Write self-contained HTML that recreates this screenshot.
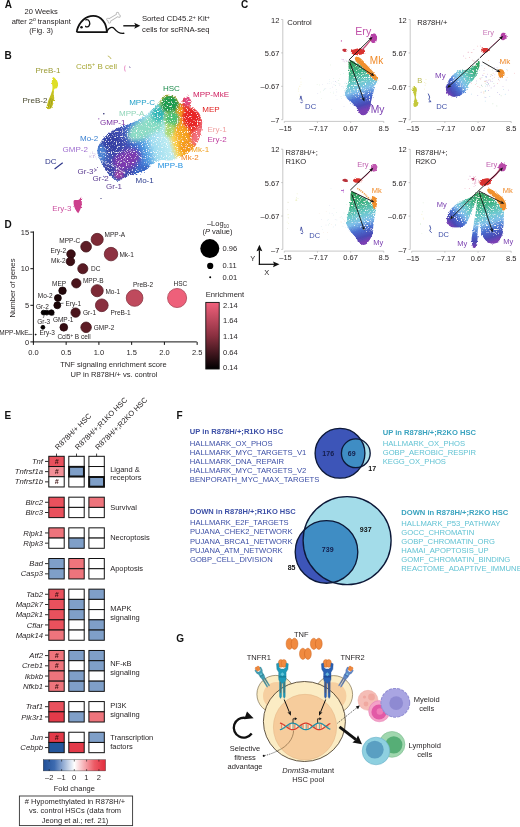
<!DOCTYPE html><html><head><meta charset="utf-8"><title>Figure</title><style>html,body{margin:0;padding:0;background:#fff}svg{display:block}text{font-family:"Liberation Sans",sans-serif}</style></head><body>
<svg width="520" height="827" viewBox="0 0 520 827">
<rect width="520" height="827" fill="#fff"/>
<defs>
<filter id="rough" x="-10%" y="-10%" width="120%" height="120%"><feTurbulence type="fractalNoise" baseFrequency="0.9" numOctaves="2" seed="3" result="n"/><feDisplacementMap in="SourceGraphic" in2="n" scale="3.2" xChannelSelector="R" yChannelSelector="G" result="d"/><feTurbulence type="fractalNoise" baseFrequency="0.8" numOctaves="1" seed="8" result="s"/><feColorMatrix in="s" type="matrix" values="0 0 0 0 1  0 0 0 0 1  0 0 0 0 1  6 0 0 0 -3.5" result="w"/><feComposite in="w" in2="d" operator="in" result="w2"/><feMerge><feMergeNode in="d"/><feMergeNode in="w2"/></feMerge></filter>
<filter id="bl3"><feGaussianBlur stdDeviation="3"/></filter>
<filter id="bl2"><feGaussianBlur stdDeviation="2"/></filter>
<filter id="bl15"><feGaussianBlur stdDeviation="1.5"/></filter>
<filter id="bl1"><feGaussianBlur stdDeviation="1"/></filter>
<filter id="bl5"><feGaussianBlur stdDeviation="5"/></filter>
<clipPath id="bclip"><path d="M97.6,150.0 C98.1,146.6 98.0,146.4 100.5,142.5 C103.0,138.6 103.1,138.2 107.5,134.5 C111.9,130.8 112.4,130.5 118.0,127.8 C123.6,125.1 124.0,126.4 130.0,123.8 C136.0,121.2 136.6,121.0 142.0,117.5 C147.4,114.0 147.4,113.8 151.5,110.0 C155.6,106.2 155.5,105.8 158.5,102.5 C161.5,99.2 161.0,98.7 163.5,96.8 C166.0,94.9 165.5,94.7 168.5,94.8 C171.5,94.9 172.8,95.4 175.4,97.2 C178.0,99.0 176.8,100.2 178.8,102.0 C180.8,103.8 180.6,103.0 183.5,104.4 C186.4,105.8 187.1,105.9 190.5,107.5 C193.9,109.1 194.3,108.2 197.0,110.8 C199.7,113.4 199.9,114.2 201.2,118.0 C202.5,121.8 202.2,121.9 202.0,125.8 C201.8,129.7 201.6,129.4 200.5,133.5 C199.4,137.6 199.7,137.9 197.5,142.0 C195.3,146.1 194.8,146.6 191.7,149.8 C188.6,153.0 188.6,152.5 185.0,154.6 C181.4,156.7 181.2,156.8 177.3,158.3 C173.4,159.8 174.1,160.1 169.6,160.6 C165.1,161.1 164.1,159.4 159.5,160.4 C154.9,161.4 154.5,162.2 151.2,164.5 C147.9,166.8 150.4,167.0 146.5,169.5 C142.6,172.0 140.4,173.0 135.8,174.5 C131.2,176.0 131.5,174.3 128.0,175.5 C124.5,176.7 124.9,178.1 122.0,179.3 C119.1,180.5 119.6,181.4 116.5,180.3 C113.4,179.2 112.7,178.1 109.6,175.0 C106.5,171.9 106.4,171.4 104.2,168.0 C102.0,164.6 102.4,164.5 101.0,161.5 C99.6,158.5 99.4,158.9 98.5,156.0 C97.6,153.1 97.1,153.4 97.6,150.0 Z"/><path d="M183,106 L182.5,100 L184,97.5 L186.5,98.5 L187.5,95.5 L189,96 L189.5,99 L192,100.5 L190.5,103.5 L191,107 Z"/></clipPath>
<linearGradient id="bgrad" gradientUnits="userSpaceOnUse" x1="95" y1="160" x2="203" y2="128"><stop offset="0" stop-color="#5a90d8"/><stop offset="0.08" stop-color="#4468c0"/><stop offset="0.18" stop-color="#3b47ab"/><stop offset="0.30" stop-color="#4150b4"/><stop offset="0.38" stop-color="#3f70d0"/><stop offset="0.46" stop-color="#58a4e4"/><stop offset="0.53" stop-color="#a0dcf0"/><stop offset="0.67" stop-color="#bcecf2"/><stop offset="0.72" stop-color="#f8d458"/><stop offset="0.77" stop-color="#f7b02a"/><stop offset="0.86" stop-color="#f49a1e"/><stop offset="0.9" stop-color="#ea3a2a"/><stop offset="0.96" stop-color="#ee5a60"/><stop offset="1" stop-color="#f0707c"/></linearGradient>
</defs>
<g filter="url(#rough)"><g clip-path="url(#bclip)">
<rect x="90" y="90" width="120" height="95" fill="url(#bgrad)"/>
<ellipse cx="126" cy="160" rx="15" ry="9.5" fill="#7d3bb0" filter="url(#bl2)" transform="rotate(-28 126 160)"/>
<ellipse cx="108" cy="169" rx="7" ry="7" fill="#3d44a8" filter="url(#bl2)" transform="rotate(0 108 169)"/>
<ellipse cx="119" cy="174.5" rx="5" ry="4.5" fill="#9a40a8" filter="url(#bl15)" transform="rotate(0 119 174.5)"/>
<ellipse cx="142" cy="170" rx="9" ry="4" fill="#3a6ac8" filter="url(#bl15)" transform="rotate(-25 142 170)"/>
<ellipse cx="112" cy="143" rx="9" ry="9" fill="#3540a4" filter="url(#bl2)" transform="rotate(0 112 143)"/>
<ellipse cx="101.5" cy="153" rx="4.5" ry="7" fill="#4f86d4" filter="url(#bl15)" transform="rotate(0 101.5 153)"/>
<ellipse cx="142" cy="130" rx="16" ry="9" fill="#8edcc6" filter="url(#bl2)" transform="rotate(-30 142 130)"/>
<ellipse cx="155" cy="123" rx="9" ry="9" fill="#86dcc4" filter="url(#bl2)" transform="rotate(0 155 123)"/>
<ellipse cx="158.5" cy="113.5" rx="7" ry="8" fill="#2fb6b6" filter="url(#bl2)" transform="rotate(0 158.5 113.5)"/>
<ellipse cx="169.6" cy="104" rx="9" ry="9" fill="#1c9c50" filter="url(#bl15)" transform="rotate(0 169.6 104)"/>
<ellipse cx="172" cy="119" rx="7" ry="8" fill="#4cc074" filter="url(#bl15)" transform="rotate(0 172 119)"/>
<ellipse cx="170" cy="130" rx="4.5" ry="7" fill="#a8d870" filter="url(#bl15)" transform="rotate(20 170 130)"/>
<ellipse cx="187" cy="146" rx="8" ry="6" fill="#f49a1e" filter="url(#bl15)" transform="rotate(-30 187 146)"/>
<ellipse cx="196.5" cy="137" rx="5" ry="9" fill="#f2707c" filter="url(#bl15)" transform="rotate(20 196.5 137)"/>
<ellipse cx="191.5" cy="118.5" rx="9" ry="10.5" fill="#e82626" filter="url(#bl15)" transform="rotate(-20 191.5 118.5)"/>
<ellipse cx="187" cy="100" rx="4" ry="6" fill="#e04a84" filter="url(#bl1)" transform="rotate(0 187 100)"/>
<path d="M101.5,160.5 C105,163.5 110,164.5 114,166.5 C118,168.5 122,172 126,173.5" fill="none" stroke="#fff" stroke-width="0.9" opacity="0.75"/>
</g></g>
<text x="35.5" y="72.8" font-size="8" fill="#9a9a32">PreB-1</text>
<text x="22.5" y="102.8" font-size="8" fill="#4d4d33">PreB-2</text>
<text x="162.9" y="91.1" font-size="8" fill="#1a8a4a">HSC</text>
<text x="193" y="96.8" font-size="8" fill="#cf2060">MPP-MkE</text>
<text x="202.3" y="112.2" font-size="8" fill="#e02020">MEP</text>
<text x="129.2" y="105.1" font-size="8" fill="#1f9fc8">MPP-C</text>
<text x="119" y="115.8" font-size="8" fill="#8fd4b8">MPP-A</text>
<text x="100" y="125.3" font-size="8" fill="#7b2fa0">GMP-1</text>
<text x="80" y="141.3" font-size="8" fill="#3a80d0">Mo-2</text>
<text x="62.5" y="151.8" font-size="8" fill="#a070d0">GMP-2</text>
<text x="45" y="163.6" font-size="8" fill="#2c3488">DC</text>
<text x="77.5" y="173.8" font-size="8" fill="#5a3a90">Gr-3</text>
<text x="92.6" y="181.3" font-size="8" fill="#5a3a90">Gr-2</text>
<text x="106" y="188.8" font-size="8" fill="#5a3a90">Gr-1</text>
<text x="135.5" y="182.8" font-size="8" fill="#304090">Mo-1</text>
<text x="157.7" y="167.8" font-size="8" fill="#2090e0">MPP-B</text>
<text x="181" y="160.3" font-size="8" fill="#f08020">Mk-2</text>
<text x="191.3" y="151.5" font-size="8" fill="#f0a020">Mk-1</text>
<text x="207.5" y="131.5" font-size="8" fill="#f0a0a0">Ery-1</text>
<text x="207.5" y="142" font-size="8" fill="#c040a0">Ery-2</text>
<text x="52.3" y="210.5" font-size="8" fill="#cc50a0">Ery-3</text>
<text x="76" y="68.5" font-size="8" fill="#a8a838">Ccl5<tspan font-size="5.5" dy="-2.5">+</tspan><tspan dy="2.5"> B cell</tspan></text>
<g filter="url(#rough3)">
<path d="M53.0,77.4 C53.9,77.1 54.4,77.8 55.6,79.0 C56.8,80.2 57.0,80.4 57.6,82.0 C58.2,83.6 58.2,83.9 57.9,85.5 C57.6,87.1 57.4,87.4 56.6,88.2 C55.8,89.0 55.4,87.9 54.6,88.8 C53.8,89.7 54.2,90.9 53.6,91.6 C53.0,92.3 52.4,92.8 52.1,91.6 C51.8,90.4 52.6,89.2 52.5,87.0 C52.4,84.8 52.0,84.8 51.9,83.0 C51.8,81.2 51.8,81.4 52.1,80.0 C52.4,78.6 52.1,77.7 53.0,77.4 Z" fill="#dede26"/>
<path d="M52.1,91.3 C52.8,90.5 53.3,90.4 53.7,91.3 C54.1,92.2 53.6,93.1 53.7,95.0 C53.8,96.9 54.4,96.5 54.2,99.0 C54.0,101.5 53.8,102.5 52.8,105.0 C51.8,107.5 51.7,108.1 50.2,108.8 C48.7,109.5 47.7,109.3 47.0,107.8 C46.3,106.3 47.0,105.5 47.6,103.0 C48.2,100.5 48.6,100.1 49.4,98.0 C50.2,95.9 50.2,96.2 50.9,94.5 C51.6,92.8 51.4,92.1 52.1,91.3 Z" fill="#c4c022"/>
<path d="M50.5,98.5 L48.3,107.5 M52.3,99 L50.3,108" stroke="#8a8a24" stroke-width="0.6" fill="none"/>
<path d="M73.8,200.5 C75.5,199.3 77.5,200.8 79.5,199.2 L81.5,196.6 L81,199.5 C82.8,202 81.8,208 78.2,213.2 C74.5,209.5 73,204 73.8,200.5 Z" fill="#cc3f8c"/>
</g>
<path d="M107.8,56 C109.5,56.5 110.5,57.5 111,59" fill="none" stroke="#b0a838" stroke-width="0.8"/>
<path d="M125.3,65.5 C124.3,67 124.3,69.5 125.3,71.5" fill="none" stroke="#e060b0" stroke-width="0.7"/>
<path d="M129.5,66.5 L130.2,68" stroke="#5a3a90" stroke-width="0.7"/>
<circle cx="103.8" cy="113.8" r="0.8" fill="#2a2a70"/><circle cx="98.8" cy="118.8" r="0.6" fill="#7b2fa0"/>
<circle cx="93.7" cy="157.5" r="0.4" fill="#a080d0" opacity="0.8"/>
<circle cx="95.7" cy="154.6" r="0.4" fill="#c8b0e0" opacity="0.8"/>
<circle cx="93.8" cy="155.6" r="0.4" fill="#a080d0" opacity="0.8"/>
<circle cx="93.4" cy="156.7" r="0.4" fill="#c8b0e0" opacity="0.8"/>
<circle cx="89.4" cy="156.1" r="0.4" fill="#a080d0" opacity="0.8"/>
<circle cx="90.0" cy="157.4" r="0.4" fill="#b89ad8" opacity="0.8"/>
<circle cx="90.6" cy="153.1" r="0.4" fill="#c8b0e0" opacity="0.8"/>
<circle cx="93.2" cy="155.7" r="0.4" fill="#b89ad8" opacity="0.8"/>
<circle cx="96.5" cy="158.9" r="0.4" fill="#b89ad8" opacity="0.8"/>
<circle cx="93.3" cy="155.9" r="0.4" fill="#a080d0" opacity="0.8"/>
<circle cx="90.0" cy="155.9" r="0.4" fill="#a080d0" opacity="0.8"/>
<circle cx="92.4" cy="152.0" r="0.4" fill="#a080d0" opacity="0.8"/>
<circle cx="93.1" cy="153.4" r="0.4" fill="#b89ad8" opacity="0.8"/>
<circle cx="94.2" cy="155.0" r="0.4" fill="#b89ad8" opacity="0.8"/>
<circle cx="91.8" cy="155.5" r="0.4" fill="#c8b0e0" opacity="0.8"/>
<circle cx="90.7" cy="156.4" r="0.4" fill="#a080d0" opacity="0.8"/>
<circle cx="89.8" cy="156.9" r="0.4" fill="#c8b0e0" opacity="0.8"/>
<circle cx="91.8" cy="157.2" r="0.4" fill="#c8b0e0" opacity="0.8"/>
<circle cx="93.7" cy="156.9" r="0.4" fill="#b89ad8" opacity="0.8"/>
<circle cx="97.7" cy="151.6" r="0.4" fill="#c8b0e0" opacity="0.8"/>
<circle cx="92.4" cy="153.2" r="0.4" fill="#a080d0" opacity="0.8"/>
<circle cx="98.2" cy="154.7" r="0.4" fill="#c8b0e0" opacity="0.8"/>
<circle cx="96.0" cy="156.9" r="0.4" fill="#c8b0e0" opacity="0.8"/>
<circle cx="94.9" cy="153.7" r="0.4" fill="#a080d0" opacity="0.8"/>
<circle cx="95.3" cy="156.8" r="0.4" fill="#c8b0e0" opacity="0.8"/>
<circle cx="94.4" cy="155.5" r="0.4" fill="#b89ad8" opacity="0.8"/>
<circle cx="101" cy="198.5" r="0.6" fill="#2a2a70"/>
<line x1="54.6" y1="169" x2="62.7" y2="162.7" stroke="#2c3488" stroke-width="1.1"/>
<path d="M94,168.5 L96.5,170 L94,171.5 M97,167 L98,168" fill="none" stroke="#5a3a90" stroke-width="0.7"/>
<path d="M103,176 L105,177.5" stroke="#4a3fa8" stroke-width="0.7"/>
<defs>
<filter id="rough2" x="-20%" y="-20%" width="140%" height="140%"><feTurbulence type="fractalNoise" baseFrequency="0.8" numOctaves="2" seed="11" result="n"/><feDisplacementMap in="SourceGraphic" in2="n" scale="3" xChannelSelector="R" yChannelSelector="G" result="d"/><feTurbulence type="fractalNoise" baseFrequency="0.75" numOctaves="1" seed="5" result="s"/><feColorMatrix in="s" type="matrix" values="0 0 0 0 1  0 0 0 0 1  0 0 0 0 1  6 0 0 0 -3.45" result="w"/><feComposite in="w" in2="d" operator="in" result="w2"/><feMerge><feMergeNode in="d"/><feMergeNode in="w2"/></feMerge></filter>
<filter id="rough3" x="-30%" y="-30%" width="160%" height="160%"><feTurbulence type="fractalNoise" baseFrequency="0.8" numOctaves="2" seed="4" result="n"/><feDisplacementMap in="SourceGraphic" in2="n" scale="2.5" xChannelSelector="R" yChannelSelector="G"/></filter>
<linearGradient id="g1" gradientUnits="userSpaceOnUse" x1="350.8" y1="61.5" x2="365.8" y2="109.5"><stop offset="0" stop-color="#2f9f58"/><stop offset="0.25" stop-color="#3fb488"/><stop offset="0.45" stop-color="#6ccacc"/><stop offset="0.6" stop-color="#80c0ea"/><stop offset="0.75" stop-color="#4a6fd0"/><stop offset="0.9" stop-color="#4a48b4"/><stop offset="1" stop-color="#7a40b4"/></linearGradient>
<linearGradient id="g2" gradientUnits="userSpaceOnUse" x1="479.2" y1="61.6" x2="444.2" y2="89.6"><stop offset="0" stop-color="#2f9f58"/><stop offset="0.25" stop-color="#3fb488"/><stop offset="0.45" stop-color="#6ccacc"/><stop offset="0.6" stop-color="#80c0ea"/><stop offset="0.75" stop-color="#4a6fd0"/><stop offset="0.9" stop-color="#4a48b4"/><stop offset="1" stop-color="#7a40b4"/></linearGradient>
<linearGradient id="g3" gradientUnits="userSpaceOnUse" x1="351.8" y1="193.2" x2="366.8" y2="241.2"><stop offset="0" stop-color="#2f9f58"/><stop offset="0.25" stop-color="#3fb488"/><stop offset="0.45" stop-color="#6ccacc"/><stop offset="0.6" stop-color="#80c0ea"/><stop offset="0.75" stop-color="#4a6fd0"/><stop offset="0.9" stop-color="#4a48b4"/><stop offset="1" stop-color="#7a40b4"/></linearGradient>
<linearGradient id="g4a" gradientUnits="userSpaceOnUse" x1="478.2" y1="192.3" x2="446.2" y2="221.3"><stop offset="0" stop-color="#2f9f58"/><stop offset="0.25" stop-color="#3fb488"/><stop offset="0.45" stop-color="#6ccacc"/><stop offset="0.6" stop-color="#80c0ea"/><stop offset="0.75" stop-color="#4a6fd0"/><stop offset="0.9" stop-color="#4a48b4"/><stop offset="1" stop-color="#7a40b4"/></linearGradient>
<linearGradient id="g4b" gradientUnits="userSpaceOnUse" x1="480.2" y1="193.3" x2="495.2" y2="241.3"><stop offset="0" stop-color="#2f9f58"/><stop offset="0.25" stop-color="#3fb488"/><stop offset="0.45" stop-color="#6ccacc"/><stop offset="0.6" stop-color="#80c0ea"/><stop offset="0.75" stop-color="#4a6fd0"/><stop offset="0.9" stop-color="#4a48b4"/><stop offset="1" stop-color="#7a40b4"/></linearGradient>
<linearGradient id="g4c" gradientUnits="userSpaceOnUse" x1="478.2" y1="193.3" x2="474.2" y2="247.3"><stop offset="0" stop-color="#2f9f58"/><stop offset="0.25" stop-color="#3fb488"/><stop offset="0.45" stop-color="#6ccacc"/><stop offset="0.6" stop-color="#80c0ea"/><stop offset="0.75" stop-color="#4a6fd0"/><stop offset="0.9" stop-color="#4a48b4"/><stop offset="1" stop-color="#7a40b4"/></linearGradient>
</defs>
<line x1="282.8" y1="19.5" x2="282.8" y2="119.7" stroke="#b0b0b0" stroke-width="0.7"/>
<line x1="284.3" y1="121.4" x2="383.8" y2="121.4" stroke="#b0b0b0" stroke-width="0.7"/>
<line x1="281.2" y1="19.5" x2="282.8" y2="19.5" stroke="#b0b0b0" stroke-width="0.7"/>
<text x="279.40000000000003" y="22.6" font-size="7.5" text-anchor="end" fill="#231f20">12</text>
<line x1="281.2" y1="52.88242105263158" x2="282.8" y2="52.88242105263158" stroke="#b0b0b0" stroke-width="0.7"/>
<text x="279.40000000000003" y="55.98242105263158" font-size="7.5" text-anchor="end" fill="#231f20">5.67</text>
<line x1="281.2" y1="86.31757894736842" x2="282.8" y2="86.31757894736842" stroke="#b0b0b0" stroke-width="0.7"/>
<text x="279.40000000000003" y="89.41757894736841" font-size="7.5" text-anchor="end" fill="#231f20">–0.67</text>
<line x1="281.2" y1="119.7" x2="282.8" y2="119.7" stroke="#b0b0b0" stroke-width="0.7"/>
<text x="279.40000000000003" y="122.8" font-size="7.5" text-anchor="end" fill="#231f20">–7</text>
<line x1="284.3" y1="121.4" x2="284.3" y2="122.9" stroke="#b0b0b0" stroke-width="0.7"/>
<text x="285.5" y="130.7" font-size="7.5" text-anchor="middle" fill="#231f20">–15</text>
<line x1="317.45255319148936" y1="121.4" x2="317.45255319148936" y2="122.9" stroke="#b0b0b0" stroke-width="0.7"/>
<text x="318.65255319148935" y="130.7" font-size="7.5" text-anchor="middle" fill="#231f20">–7.17</text>
<line x1="350.64744680851067" y1="121.4" x2="350.64744680851067" y2="122.9" stroke="#b0b0b0" stroke-width="0.7"/>
<text x="350.64744680851067" y="130.7" font-size="7.5" text-anchor="middle" fill="#231f20">0.67</text>
<line x1="383.8" y1="121.4" x2="383.8" y2="122.9" stroke="#b0b0b0" stroke-width="0.7"/>
<text x="383.8" y="130.7" font-size="7.5" text-anchor="middle" fill="#231f20">8.5</text>
<text x="287.3" y="24.8" font-size="7.6" fill="#231f20">Control</text>
<g filter="url(#rough2)">
<path d="M349.0,60.3 C350.6,59.1 354.6,62.1 357.9,63.8 C361.2,65.5 364.9,67.7 368.1,70.1 C371.2,72.5 374.3,75.8 375.9,77.7 C377.5,79.6 377.3,79.4 377.2,80.9 C377.0,82.3 375.7,83.7 375.0,86.0 C374.3,88.2 373.9,90.7 373.1,93.6 C372.4,96.5 371.6,99.5 370.8,102.5 C370.1,105.5 369.8,108.5 368.7,110.7 C367.5,112.9 365.8,114.4 364.3,114.9 C362.7,115.3 361.1,114.5 359.8,113.2 C358.5,112.0 358.3,109.4 356.9,107.5 C355.5,105.6 353.4,104.5 351.6,102.5 C349.7,100.5 347.5,98.3 346.5,96.1 C345.5,93.9 345.4,92.4 345.7,89.8 C346.1,87.1 348.0,84.2 348.5,80.9 C349.1,77.6 348.7,74.3 348.8,70.7 C348.9,67.1 347.4,61.6 349.0,60.3 Z" fill="url(#g1)"/>
</g><g filter="url(#rough3)">
<path d="M346.2,92.9 C348.5,92.9 350.2,95.2 355.4,97.4 C360.5,99.6 362.9,100.6 366.8,101.8 C370.7,103.1 370.4,100.2 370.8,102.5 C371.3,104.7 370.3,107.6 368.7,110.7 C367.0,113.8 366.5,114.3 364.3,114.9 C362.0,115.5 361.7,115.1 359.8,113.2 C358.0,111.4 359.0,110.2 356.9,107.5 C354.8,104.8 354.2,105.0 351.6,102.5 C349.0,99.9 347.8,99.8 346.5,97.4 C345.2,95.0 344.0,92.9 346.2,92.9 Z" fill="url(#g1)"/>
<path d="M355.4,57.2 C356.3,56.3 357.0,55.8 359.8,57.8 C362.7,59.8 363.3,61.3 366.8,65.0 C370.3,68.7 371.1,69.3 373.8,72.6 C376.4,76.0 377.2,76.8 377.4,78.6 C377.7,80.4 377.0,81.1 374.7,79.9 C372.3,78.6 371.6,77.2 368.1,73.5 C364.5,69.9 363.5,68.4 360.4,65.3 C357.4,62.2 357.3,63.3 356.0,61.2 C354.7,59.2 354.4,58.0 355.4,57.2 Z" fill="#f0902e"/>
<path d="M350.9,51.1 C351.6,49.7 352.7,49.5 355.4,48.9 C358.1,48.3 359.3,48.1 361.7,48.7 C364.1,49.2 364.6,49.7 365.0,51.1 C365.4,52.4 365.2,53.0 363.2,54.0 C361.3,55.0 359.9,54.9 357.3,55.0 C354.7,55.1 354.4,55.2 352.8,54.3 C351.2,53.3 350.3,52.4 350.9,51.1 Z" fill="#d8302e"/>
<path d="M342.4,49.4 C342.9,48.7 344.7,48.5 345.9,48.9 C347.0,49.3 347.6,50.4 347.1,51.1 C346.6,51.8 345.1,52.1 344.0,51.7 C342.8,51.3 342.0,50.1 342.4,49.4 Z" fill="#c8303a"/>
<path d="M370.3,36.5 C370.9,34.7 371.6,34.0 373.1,33.7 C374.6,33.4 375.4,33.6 376.3,35.2 C377.2,36.9 377.3,38.3 376.7,40.3 C376.0,42.3 375.2,42.9 373.8,43.1 C372.3,43.2 371.7,42.6 370.8,40.9 C370.0,39.3 369.8,38.3 370.3,36.5 Z" fill="#b53fa6"/>
</g>
<path d="M362.0,49.9 C363.2,48.6 364.4,47.4 366.8,44.7 C369.1,42.1 370.2,40.6 371.4,39.3" fill="none" stroke="#c8507a" stroke-width="1.3"/>
<circle cx="344.4" cy="61.1" r="0.35" fill="#c090d8" opacity="0.8"/>
<circle cx="346.6" cy="61.2" r="0.35" fill="#d8a0d0" opacity="0.8"/>
<circle cx="341.8" cy="59.2" r="0.35" fill="#c090d8" opacity="0.8"/>
<circle cx="346.5" cy="60.8" r="0.35" fill="#c090d8" opacity="0.8"/>
<circle cx="344.9" cy="62.0" r="0.35" fill="#c090d8" opacity="0.8"/>
<circle cx="345.2" cy="60.0" r="0.35" fill="#c090d8" opacity="0.8"/>
<circle cx="343.4" cy="59.3" r="0.35" fill="#c090d8" opacity="0.8"/>
<circle cx="343.4" cy="59.9" r="0.35" fill="#c090d8" opacity="0.8"/>
<circle cx="347.8" cy="61.2" r="0.35" fill="#d8a0d0" opacity="0.8"/>
<circle cx="343.1" cy="61.2" r="0.35" fill="#d8a0d0" opacity="0.8"/>
<circle cx="342.5" cy="59.8" r="0.35" fill="#c090d8" opacity="0.8"/>
<circle cx="342.8" cy="59.7" r="0.35" fill="#d8a0d0" opacity="0.8"/>
<circle cx="346.9" cy="61.6" r="0.35" fill="#c090d8" opacity="0.8"/>
<circle cx="343.4" cy="59.5" r="0.35" fill="#d8a0d0" opacity="0.8"/>
<circle cx="339.5" cy="78.7" r="0.3" fill="#b0d8a0" opacity="0.7"/>
<circle cx="333.4" cy="92.1" r="0.3" fill="#9ad0e0" opacity="0.7"/>
<circle cx="335.7" cy="81.8" r="0.3" fill="#9a9ad8" opacity="0.7"/>
<circle cx="319.7" cy="84.9" r="0.3" fill="#b0d8a0" opacity="0.7"/>
<circle cx="331.8" cy="109.3" r="0.3" fill="#7fc8b8" opacity="0.7"/>
<circle cx="332.4" cy="87.1" r="0.3" fill="#9a9ad8" opacity="0.7"/>
<circle cx="343.8" cy="95.1" r="0.3" fill="#7fc8b8" opacity="0.7"/>
<circle cx="341.3" cy="86.7" r="0.3" fill="#9a9ad8" opacity="0.7"/>
<circle cx="333.3" cy="93.8" r="0.3" fill="#b0d8a0" opacity="0.7"/>
<circle cx="329.1" cy="83.3" r="0.3" fill="#7fc8b8" opacity="0.7"/>
<circle cx="347.4" cy="84.4" r="0.3" fill="#7fc8b8" opacity="0.7"/>
<circle cx="350.8" cy="92.1" r="0.3" fill="#b0d8a0" opacity="0.7"/>
<circle cx="335.9" cy="95.2" r="0.3" fill="#9a9ad8" opacity="0.7"/>
<circle cx="347.7" cy="88.8" r="0.3" fill="#9ad0e0" opacity="0.7"/>
<circle cx="329.7" cy="81.5" r="0.3" fill="#9ad0e0" opacity="0.7"/>
<circle cx="338.3" cy="83.3" r="0.3" fill="#9ad0e0" opacity="0.7"/>
<circle cx="321.7" cy="98.2" r="0.3" fill="#b0d8a0" opacity="0.7"/>
<circle cx="346.4" cy="91.7" r="0.3" fill="#9a9ad8" opacity="0.7"/>
<circle cx="350.2" cy="77.6" r="0.3" fill="#9a9ad8" opacity="0.7"/>
<circle cx="330.7" cy="64.9" r="0.3" fill="#b0d8a0" opacity="0.7"/>
<circle cx="342.8" cy="86.3" r="0.3" fill="#9ad0e0" opacity="0.7"/>
<circle cx="345.5" cy="97.0" r="0.3" fill="#7fc8b8" opacity="0.7"/>
<circle cx="325.8" cy="88.5" r="0.3" fill="#9a9ad8" opacity="0.7"/>
<circle cx="336.8" cy="91.9" r="0.3" fill="#9a9ad8" opacity="0.7"/>
<circle cx="331.7" cy="83.0" r="0.3" fill="#9ad0e0" opacity="0.7"/>
<circle cx="333.8" cy="78.5" r="0.3" fill="#7fc8b8" opacity="0.7"/>
<circle cx="320.3" cy="91.9" r="0.3" fill="#b0d8a0" opacity="0.7"/>
<circle cx="330.6" cy="92.3" r="0.3" fill="#b0d8a0" opacity="0.7"/>
<circle cx="335.7" cy="85.4" r="0.3" fill="#7fc8b8" opacity="0.7"/>
<circle cx="347.5" cy="86.7" r="0.3" fill="#7fc8b8" opacity="0.7"/>
<circle cx="336.2" cy="89.7" r="0.3" fill="#7fc8b8" opacity="0.7"/>
<circle cx="327.6" cy="83.5" r="0.3" fill="#9a9ad8" opacity="0.7"/>
<circle cx="335.2" cy="85.5" r="0.3" fill="#9ad0e0" opacity="0.7"/>
<circle cx="334.0" cy="84.5" r="0.3" fill="#9a9ad8" opacity="0.7"/>
<circle cx="349.5" cy="84.5" r="0.3" fill="#b0d8a0" opacity="0.7"/>
<circle cx="350.3" cy="98.3" r="0.3" fill="#b0d8a0" opacity="0.7"/>
<circle cx="330.1" cy="88.3" r="0.3" fill="#9ad0e0" opacity="0.7"/>
<circle cx="344.4" cy="91.9" r="0.3" fill="#9a9ad8" opacity="0.7"/>
<circle cx="324.1" cy="89.1" r="0.3" fill="#7fc8b8" opacity="0.7"/>
<circle cx="344.0" cy="106.4" r="0.3" fill="#9a9ad8" opacity="0.7"/>
<circle cx="344.6" cy="95.5" r="0.3" fill="#7fc8b8" opacity="0.7"/>
<circle cx="338.2" cy="80.8" r="0.3" fill="#7fc8b8" opacity="0.7"/>
<circle cx="335.5" cy="81.6" r="0.3" fill="#9a9ad8" opacity="0.7"/>
<circle cx="344.9" cy="83.4" r="0.3" fill="#9ad0e0" opacity="0.7"/>
<circle cx="322.5" cy="84.7" r="0.3" fill="#9a9ad8" opacity="0.7"/>
<circle cx="329.7" cy="79.2" r="0.3" fill="#9ad0e0" opacity="0.7"/>
<circle cx="343.5" cy="73.6" r="0.3" fill="#9ad0e0" opacity="0.7"/>
<circle cx="341.0" cy="96.4" r="0.3" fill="#7fc8b8" opacity="0.7"/>
<circle cx="353.7" cy="86.6" r="0.3" fill="#b0d8a0" opacity="0.7"/>
<circle cx="337.0" cy="99.8" r="0.3" fill="#9a9ad8" opacity="0.7"/>
<circle cx="317.8" cy="93.6" r="0.3" fill="#9a9ad8" opacity="0.7"/>
<circle cx="346.0" cy="85.4" r="0.3" fill="#9ad0e0" opacity="0.7"/>
<circle cx="345.9" cy="92.9" r="0.3" fill="#9a9ad8" opacity="0.7"/>
<circle cx="341.4" cy="98.2" r="0.3" fill="#7fc8b8" opacity="0.7"/>
<circle cx="324.8" cy="89.0" r="0.3" fill="#7fc8b8" opacity="0.7"/>
<circle cx="340.1" cy="84.0" r="0.3" fill="#b0d8a0" opacity="0.7"/>
<circle cx="340.8" cy="74.4" r="0.3" fill="#b0d8a0" opacity="0.7"/>
<circle cx="345.2" cy="82.0" r="0.3" fill="#9a9ad8" opacity="0.7"/>
<circle cx="356.4" cy="97.5" r="0.3" fill="#b0d8a0" opacity="0.7"/>
<circle cx="323.4" cy="90.5" r="0.3" fill="#7fc8b8" opacity="0.7"/>
<circle cx="336.9" cy="82.7" r="0.3" fill="#9ad0e0" opacity="0.7"/>
<circle cx="349.7" cy="89.3" r="0.3" fill="#b0d8a0" opacity="0.7"/>
<circle cx="339.6" cy="83.3" r="0.3" fill="#b0d8a0" opacity="0.7"/>
<circle cx="333.2" cy="81.3" r="0.3" fill="#9ad0e0" opacity="0.7"/>
<circle cx="353.8" cy="89.4" r="0.3" fill="#7fc8b8" opacity="0.7"/>
<circle cx="317.1" cy="84.4" r="0.3" fill="#b0d8a0" opacity="0.7"/>
<circle cx="343.7" cy="87.1" r="0.3" fill="#9ad0e0" opacity="0.7"/>
<circle cx="343.9" cy="88.5" r="0.3" fill="#9ad0e0" opacity="0.7"/>
<circle cx="338.5" cy="80.4" r="0.3" fill="#b0d8a0" opacity="0.7"/>
<circle cx="339.4" cy="85.1" r="0.3" fill="#9a9ad8" opacity="0.7"/>
<circle cx="301.0" cy="84.2" r="0.3" fill="#e8d860" opacity="0.7"/>
<circle cx="300.8" cy="78.6" r="0.3" fill="#e8d860" opacity="0.7"/>
<circle cx="298.6" cy="88.0" r="0.3" fill="#e8d860" opacity="0.7"/>
<circle cx="301.0" cy="82.1" r="0.3" fill="#e8d860" opacity="0.7"/>
<circle cx="299.9" cy="86.1" r="0.3" fill="#e8d860" opacity="0.7"/>
<circle cx="298.2" cy="91.1" r="0.3" fill="#e8d860" opacity="0.7"/>
<circle cx="299.2" cy="95.9" r="0.3" fill="#e8d860" opacity="0.7"/>
<circle cx="299.9" cy="86.7" r="0.3" fill="#e8d860" opacity="0.7"/>
<circle cx="299.8" cy="94.3" r="0.3" fill="#e8d860" opacity="0.7"/>
<circle cx="298.5" cy="89.1" r="0.3" fill="#e8d860" opacity="0.7"/>
<circle cx="341.4" cy="40.9" r="0.6" fill="#c040a0"/>
<path d="M300.0,99.5 l0.9,-3.6 l1.3,5.2 M300.4,102.3 l1.4,0.6 l0.9,-1.2" fill="none" stroke="#34409a" stroke-width="0.8"/>
<line x1="349.1" y1="59.8" x2="370.2" y2="39.1" stroke="#111" stroke-width="0.9"/>
<path d="M372.5,36.9 L370.7,41.1 L370.3,39.1 L368.3,38.6 Z" fill="#111"/>
<line x1="349.1" y1="59.8" x2="371.7" y2="74.3" stroke="#111" stroke-width="0.9"/>
<path d="M374.4,76.0 L369.9,75.2 L371.8,74.3 L371.8,72.3 Z" fill="#111"/>
<line x1="349.6" y1="61.8" x2="363.3" y2="98.5" stroke="#111" stroke-width="0.9"/>
<path d="M364.4,101.5 L361.3,98.2 L363.3,98.6 L364.5,97.0 Z" fill="#111"/>
<text x="355.3" y="34.5" font-size="10.6" fill="#c050a8">Ery</text>
<text x="369.8" y="64.0" font-size="10" fill="#f08a28">Mk</text>
<text x="370.8" y="113.1" font-size="10.3" fill="#7a3fb0">My</text>
<text x="305.1" y="108.8" font-size="7.7" fill="#4050a8">DC</text>
<line x1="410.2" y1="19.6" x2="410.2" y2="119.80000000000001" stroke="#b0b0b0" stroke-width="0.7"/>
<line x1="411.7" y1="121.50000000000001" x2="511.2" y2="121.50000000000001" stroke="#b0b0b0" stroke-width="0.7"/>
<line x1="408.59999999999997" y1="19.6" x2="410.2" y2="19.6" stroke="#b0b0b0" stroke-width="0.7"/>
<text x="406.8" y="22.700000000000003" font-size="7.5" text-anchor="end" fill="#231f20">12</text>
<line x1="408.59999999999997" y1="52.98242105263158" x2="410.2" y2="52.98242105263158" stroke="#b0b0b0" stroke-width="0.7"/>
<text x="406.8" y="56.08242105263158" font-size="7.5" text-anchor="end" fill="#231f20">5.67</text>
<line x1="408.59999999999997" y1="86.41757894736841" x2="410.2" y2="86.41757894736841" stroke="#b0b0b0" stroke-width="0.7"/>
<text x="406.8" y="89.5175789473684" font-size="7.5" text-anchor="end" fill="#231f20">–0.67</text>
<line x1="408.59999999999997" y1="119.80000000000001" x2="410.2" y2="119.80000000000001" stroke="#b0b0b0" stroke-width="0.7"/>
<text x="406.8" y="122.9" font-size="7.5" text-anchor="end" fill="#231f20">–7</text>
<line x1="411.7" y1="121.50000000000001" x2="411.7" y2="123.00000000000001" stroke="#b0b0b0" stroke-width="0.7"/>
<text x="412.9" y="130.8" font-size="7.5" text-anchor="middle" fill="#231f20">–15</text>
<line x1="444.85255319148933" y1="121.50000000000001" x2="444.85255319148933" y2="123.00000000000001" stroke="#b0b0b0" stroke-width="0.7"/>
<text x="446.0525531914893" y="130.8" font-size="7.5" text-anchor="middle" fill="#231f20">–7.17</text>
<line x1="478.04744680851064" y1="121.50000000000001" x2="478.04744680851064" y2="123.00000000000001" stroke="#b0b0b0" stroke-width="0.7"/>
<text x="478.04744680851064" y="130.8" font-size="7.5" text-anchor="middle" fill="#231f20">0.67</text>
<line x1="511.2" y1="121.50000000000001" x2="511.2" y2="123.00000000000001" stroke="#b0b0b0" stroke-width="0.7"/>
<text x="511.2" y="130.8" font-size="7.5" text-anchor="middle" fill="#231f20">8.5</text>
<text x="417.2" y="24.900000000000002" font-size="7.6" fill="#231f20">R878H/+</text>
<g filter="url(#rough2)">
<path d="M478.6,60.6 C477.9,60.6 477.1,63.2 475.9,64.4 C474.6,65.7 473.8,66.0 472.3,67.0 C470.8,67.9 470.1,68.4 468.5,69.1 C466.9,69.8 465.8,70.2 464.2,70.3 C462.6,70.5 462.1,69.5 460.4,69.9 C458.7,70.3 457.8,70.9 455.8,72.5 C453.8,74.0 452.3,75.1 450.5,77.5 C448.7,80.0 447.7,81.9 446.9,84.5 C446.1,87.2 446.0,88.8 446.5,90.9 C447.0,93.0 447.6,94.0 449.4,95.1 C451.3,96.2 453.2,96.8 455.8,96.6 C458.3,96.4 460.0,95.3 462.1,94.0 C464.2,92.8 465.0,92.3 466.3,90.2 C467.7,88.2 467.6,85.8 468.9,83.9 C470.2,81.9 471.3,82.2 472.7,80.5 C474.1,78.8 474.6,77.6 475.7,75.4 C476.8,73.3 477.4,71.9 478.2,69.7 C479.0,67.5 479.6,66.2 479.7,64.4 C479.8,62.6 479.4,60.6 478.6,60.6 Z" fill="url(#g2)"/>
</g><g filter="url(#rough3)">
<path d="M446.9,84.5 C448.8,82.8 450.7,82.6 454.1,83.9 C457.5,85.2 458.4,87.3 460.4,89.8 C462.4,92.4 463.3,92.4 462.1,94.0 C461.0,95.7 458.9,96.3 455.8,96.6 C452.6,96.8 451.8,96.5 449.4,95.1 C447.1,93.7 447.1,93.5 446.5,90.9 C445.8,88.2 445.0,86.3 446.9,84.5 Z" fill="url(#g2)"/>
<path d="M498.2,71.3 C498.6,69.2 499.7,68.9 501.3,69.2 C502.9,69.4 503.9,70.4 504.4,72.3 C504.9,74.3 504.5,75.7 503.4,77.0 C502.2,78.3 501.0,78.9 499.7,77.5 C498.4,76.1 497.8,73.3 498.2,71.3 Z" fill="#f0902e"/>
<path d="M481.1,49.5 C481.5,48.3 482.9,48.0 484.9,47.9 C487.0,47.8 488.5,48.0 489.4,48.9 C490.2,49.8 489.9,50.6 488.3,51.5 C486.8,52.4 484.9,53.1 483.1,52.6 C481.3,52.1 480.6,50.6 481.1,49.5 Z" fill="#d8302e"/>
<path d="M500.8,34.9 C501.3,33.2 502.5,32.7 503.9,32.8 C505.3,33.0 506.1,33.9 506.5,35.4 C506.9,37.0 506.6,38.0 505.5,39.1 C504.3,40.1 503.0,40.6 501.8,39.6 C500.7,38.6 500.3,36.6 500.8,34.9 Z" fill="#b53fa6"/>
<path d="M412.6,87.7 C413.0,86.2 414.1,86.5 415.2,86.9 C416.2,87.2 416.5,87.4 416.8,89.0 C417.2,90.5 416.6,90.8 416.4,93.0 C416.2,95.2 415.6,95.6 416.0,97.9 C416.4,100.1 417.7,100.2 418.1,102.1 C418.5,104.0 418.6,104.3 417.7,105.5 C416.7,106.6 415.4,107.4 414.3,106.7 C413.3,106.1 413.4,105.1 413.5,102.9 C413.6,100.7 414.7,100.3 414.7,97.9 C414.7,95.4 414.0,95.5 413.5,93.0 C412.9,90.4 412.2,89.2 412.6,87.7 Z" fill="#c4c83a"/>
</g>
<path d="M480.5,57.2 C482.6,55.2 483.6,53.9 488.8,48.9 C494.0,44.0 498.2,40.4 501.3,37.5" fill="none" stroke="#d05a90" stroke-width="0.9"/>
<circle cx="475.3" cy="84.4" r="0.38" fill="#f08890" opacity="0.85"/>
<circle cx="483.0" cy="75.5" r="0.38" fill="#b080d0" opacity="0.85"/>
<circle cx="476.4" cy="83.2" r="0.38" fill="#90c890" opacity="0.85"/>
<circle cx="480.7" cy="79.2" r="0.38" fill="#f08890" opacity="0.85"/>
<circle cx="505.2" cy="62.9" r="0.38" fill="#b080d0" opacity="0.85"/>
<circle cx="506.9" cy="69.7" r="0.38" fill="#70b8e0" opacity="0.85"/>
<circle cx="491.1" cy="75.0" r="0.38" fill="#f0a060" opacity="0.85"/>
<circle cx="481.4" cy="85.1" r="0.38" fill="#8070c8" opacity="0.85"/>
<circle cx="488.4" cy="83.5" r="0.38" fill="#8070c8" opacity="0.85"/>
<circle cx="486.5" cy="84.4" r="0.38" fill="#70b8e0" opacity="0.85"/>
<circle cx="501.5" cy="74.3" r="0.38" fill="#b080d0" opacity="0.85"/>
<circle cx="501.1" cy="95.8" r="0.38" fill="#90c890" opacity="0.85"/>
<circle cx="492.9" cy="103.8" r="0.38" fill="#90c890" opacity="0.85"/>
<circle cx="492.7" cy="75.7" r="0.38" fill="#8070c8" opacity="0.85"/>
<circle cx="491.1" cy="74.4" r="0.38" fill="#90c890" opacity="0.85"/>
<circle cx="498.4" cy="79.2" r="0.38" fill="#90c890" opacity="0.85"/>
<circle cx="491.1" cy="87.9" r="0.38" fill="#8070c8" opacity="0.85"/>
<circle cx="482.2" cy="86.4" r="0.38" fill="#90c890" opacity="0.85"/>
<circle cx="486.4" cy="80.3" r="0.38" fill="#b080d0" opacity="0.85"/>
<circle cx="479.9" cy="78.7" r="0.38" fill="#f0a060" opacity="0.85"/>
<circle cx="505.2" cy="94.2" r="0.38" fill="#70b8e0" opacity="0.85"/>
<circle cx="492.8" cy="78.8" r="0.38" fill="#b080d0" opacity="0.85"/>
<circle cx="485.2" cy="101.1" r="0.38" fill="#70b8e0" opacity="0.85"/>
<circle cx="487.5" cy="84.8" r="0.38" fill="#90c890" opacity="0.85"/>
<circle cx="497.0" cy="67.4" r="0.38" fill="#b080d0" opacity="0.85"/>
<circle cx="477.9" cy="86.5" r="0.38" fill="#f08890" opacity="0.85"/>
<circle cx="474.2" cy="72.9" r="0.38" fill="#f0a060" opacity="0.85"/>
<circle cx="484.9" cy="97.2" r="0.38" fill="#70b8e0" opacity="0.85"/>
<circle cx="484.7" cy="81.4" r="0.38" fill="#f0a060" opacity="0.85"/>
<circle cx="476.3" cy="66.1" r="0.38" fill="#f0a060" opacity="0.85"/>
<circle cx="482.7" cy="75.1" r="0.38" fill="#b080d0" opacity="0.85"/>
<circle cx="495.4" cy="71.2" r="0.38" fill="#b080d0" opacity="0.85"/>
<circle cx="498.6" cy="79.2" r="0.38" fill="#b080d0" opacity="0.85"/>
<circle cx="486.1" cy="77.5" r="0.38" fill="#8070c8" opacity="0.85"/>
<circle cx="488.5" cy="84.4" r="0.38" fill="#70b8e0" opacity="0.85"/>
<circle cx="487.7" cy="85.9" r="0.38" fill="#b080d0" opacity="0.85"/>
<circle cx="479.7" cy="70.7" r="0.38" fill="#70b8e0" opacity="0.85"/>
<circle cx="485.3" cy="91.0" r="0.38" fill="#70b8e0" opacity="0.85"/>
<circle cx="485.9" cy="97.5" r="0.38" fill="#b080d0" opacity="0.85"/>
<circle cx="490.1" cy="80.0" r="0.38" fill="#f08890" opacity="0.85"/>
<circle cx="482.0" cy="77.6" r="0.38" fill="#90c890" opacity="0.85"/>
<circle cx="488.5" cy="90.5" r="0.38" fill="#8070c8" opacity="0.85"/>
<circle cx="492.7" cy="69.9" r="0.38" fill="#90c890" opacity="0.85"/>
<circle cx="468.1" cy="73.6" r="0.38" fill="#f08890" opacity="0.85"/>
<circle cx="485.7" cy="86.1" r="0.38" fill="#70b8e0" opacity="0.85"/>
<circle cx="477.8" cy="95.4" r="0.38" fill="#8070c8" opacity="0.85"/>
<circle cx="487.5" cy="74.2" r="0.38" fill="#b080d0" opacity="0.85"/>
<circle cx="507.1" cy="77.4" r="0.38" fill="#f0a060" opacity="0.85"/>
<circle cx="503.0" cy="86.7" r="0.38" fill="#b080d0" opacity="0.85"/>
<circle cx="485.1" cy="81.0" r="0.38" fill="#8070c8" opacity="0.85"/>
<circle cx="499.2" cy="62.6" r="0.38" fill="#8070c8" opacity="0.85"/>
<circle cx="501.5" cy="77.1" r="0.38" fill="#8070c8" opacity="0.85"/>
<circle cx="485.2" cy="90.3" r="0.38" fill="#70b8e0" opacity="0.85"/>
<circle cx="488.1" cy="80.4" r="0.38" fill="#b080d0" opacity="0.85"/>
<circle cx="514.3" cy="73.2" r="0.38" fill="#f08890" opacity="0.85"/>
<circle cx="487.0" cy="82.0" r="0.38" fill="#b080d0" opacity="0.85"/>
<circle cx="489.5" cy="85.8" r="0.38" fill="#b080d0" opacity="0.85"/>
<circle cx="479.9" cy="87.3" r="0.38" fill="#f08890" opacity="0.85"/>
<circle cx="484.0" cy="73.3" r="0.38" fill="#f0a060" opacity="0.85"/>
<circle cx="503.7" cy="89.6" r="0.38" fill="#70b8e0" opacity="0.85"/>
<circle cx="485.8" cy="81.3" r="0.38" fill="#f0a060" opacity="0.85"/>
<circle cx="483.9" cy="93.0" r="0.38" fill="#f0a060" opacity="0.85"/>
<circle cx="477.7" cy="73.3" r="0.38" fill="#70b8e0" opacity="0.85"/>
<circle cx="479.5" cy="66.3" r="0.38" fill="#f08890" opacity="0.85"/>
<circle cx="481.4" cy="85.3" r="0.38" fill="#90c890" opacity="0.85"/>
<circle cx="497.7" cy="92.6" r="0.38" fill="#8070c8" opacity="0.85"/>
<circle cx="499.7" cy="94.3" r="0.38" fill="#8070c8" opacity="0.85"/>
<circle cx="499.1" cy="70.8" r="0.38" fill="#8070c8" opacity="0.85"/>
<circle cx="484.6" cy="68.3" r="0.38" fill="#f08890" opacity="0.85"/>
<circle cx="488.4" cy="66.6" r="0.38" fill="#f0a060" opacity="0.85"/>
<circle cx="494.3" cy="67.9" r="0.38" fill="#8070c8" opacity="0.85"/>
<circle cx="481.9" cy="65.6" r="0.38" fill="#70b8e0" opacity="0.85"/>
<circle cx="490.7" cy="81.1" r="0.38" fill="#8070c8" opacity="0.85"/>
<circle cx="485.2" cy="83.2" r="0.38" fill="#90c890" opacity="0.85"/>
<circle cx="475.1" cy="74.5" r="0.38" fill="#8070c8" opacity="0.85"/>
<circle cx="480.9" cy="78.1" r="0.38" fill="#b080d0" opacity="0.85"/>
<circle cx="506.1" cy="80.0" r="0.38" fill="#8070c8" opacity="0.85"/>
<circle cx="507.7" cy="70.8" r="0.38" fill="#f0a060" opacity="0.85"/>
<circle cx="486.2" cy="76.5" r="0.38" fill="#8070c8" opacity="0.85"/>
<circle cx="470.2" cy="82.6" r="0.38" fill="#b080d0" opacity="0.85"/>
<circle cx="489.8" cy="96.3" r="0.38" fill="#70b8e0" opacity="0.85"/>
<circle cx="486.5" cy="52.4" r="0.38" fill="#90c890" opacity="0.85"/>
<circle cx="490.5" cy="76.3" r="0.38" fill="#8070c8" opacity="0.85"/>
<circle cx="487.5" cy="82.6" r="0.38" fill="#8070c8" opacity="0.85"/>
<circle cx="485.7" cy="76.5" r="0.38" fill="#70b8e0" opacity="0.85"/>
<circle cx="481.1" cy="92.2" r="0.38" fill="#8070c8" opacity="0.85"/>
<circle cx="483.9" cy="91.8" r="0.38" fill="#f0a060" opacity="0.85"/>
<circle cx="476.7" cy="80.9" r="0.38" fill="#8070c8" opacity="0.85"/>
<circle cx="493.9" cy="83.7" r="0.38" fill="#90c890" opacity="0.85"/>
<circle cx="485.1" cy="91.3" r="0.38" fill="#90c890" opacity="0.85"/>
<circle cx="471.5" cy="83.2" r="0.38" fill="#f08890" opacity="0.85"/>
<circle cx="496.9" cy="105.9" r="0.38" fill="#90c890" opacity="0.85"/>
<circle cx="499.2" cy="80.8" r="0.38" fill="#f08890" opacity="0.85"/>
<circle cx="498.9" cy="77.4" r="0.38" fill="#b080d0" opacity="0.85"/>
<circle cx="471.3" cy="94.1" r="0.38" fill="#70b8e0" opacity="0.85"/>
<circle cx="492.1" cy="81.6" r="0.38" fill="#8070c8" opacity="0.85"/>
<circle cx="463.8" cy="75.9" r="0.38" fill="#70b8e0" opacity="0.85"/>
<circle cx="476.9" cy="71.1" r="0.38" fill="#b080d0" opacity="0.85"/>
<circle cx="500.0" cy="69.4" r="0.38" fill="#70b8e0" opacity="0.85"/>
<circle cx="467.8" cy="79.9" r="0.38" fill="#90c890" opacity="0.85"/>
<circle cx="489.0" cy="79.7" r="0.38" fill="#90c890" opacity="0.85"/>
<circle cx="484.0" cy="70.3" r="0.38" fill="#8070c8" opacity="0.85"/>
<circle cx="494.0" cy="86.7" r="0.38" fill="#b080d0" opacity="0.85"/>
<circle cx="494.7" cy="85.8" r="0.38" fill="#b080d0" opacity="0.85"/>
<circle cx="488.3" cy="60.5" r="0.38" fill="#f0a060" opacity="0.85"/>
<circle cx="494.3" cy="77.2" r="0.38" fill="#f0a060" opacity="0.85"/>
<circle cx="494.9" cy="74.8" r="0.38" fill="#b080d0" opacity="0.85"/>
<circle cx="497.3" cy="83.5" r="0.38" fill="#f08890" opacity="0.85"/>
<circle cx="508.4" cy="90.1" r="0.38" fill="#b080d0" opacity="0.85"/>
<circle cx="493.1" cy="73.2" r="0.38" fill="#f0a060" opacity="0.85"/>
<circle cx="473.9" cy="49.7" r="0.4" fill="#d060a0" opacity="0.8"/>
<circle cx="472.2" cy="60.1" r="0.4" fill="#e07080" opacity="0.8"/>
<circle cx="473.6" cy="60.9" r="0.4" fill="#e07080" opacity="0.8"/>
<circle cx="477.7" cy="46.1" r="0.4" fill="#e07080" opacity="0.8"/>
<circle cx="480.3" cy="46.0" r="0.4" fill="#d060a0" opacity="0.8"/>
<circle cx="472.0" cy="52.4" r="0.4" fill="#e07080" opacity="0.8"/>
<circle cx="465.8" cy="58.2" r="0.4" fill="#e07080" opacity="0.8"/>
<circle cx="463.4" cy="56.0" r="0.4" fill="#d060a0" opacity="0.8"/>
<circle cx="474.2" cy="61.0" r="0.4" fill="#e07080" opacity="0.8"/>
<circle cx="470.3" cy="65.6" r="0.4" fill="#e07080" opacity="0.8"/>
<circle cx="469.7" cy="57.5" r="0.4" fill="#e07080" opacity="0.8"/>
<circle cx="468.5" cy="52.1" r="0.4" fill="#d060a0" opacity="0.8"/>
<circle cx="471.2" cy="52.4" r="0.4" fill="#e07080" opacity="0.8"/>
<circle cx="468.0" cy="52.2" r="0.4" fill="#e07080" opacity="0.8"/>
<path d="M428.2,93.6 l1.5,3.5 l-0.8,2.5 l2.2,2 l-2.4,0.3" fill="none" stroke="#3848a0" stroke-width="0.9"/>
<circle cx="425.9" cy="83.5" r="0.35" fill="#d8d050" opacity="0.9"/>
<circle cx="424.8" cy="82.7" r="0.35" fill="#d8d050" opacity="0.9"/>
<circle cx="425.1" cy="85.1" r="0.35" fill="#d8d050" opacity="0.9"/>
<circle cx="424.5" cy="89.0" r="0.35" fill="#d8d050" opacity="0.9"/>
<circle cx="426.0" cy="79.3" r="0.35" fill="#d8d050" opacity="0.9"/>
<line x1="479.8" y1="58.0" x2="500.8" y2="38.2" stroke="#111" stroke-width="0.9"/>
<path d="M503.1,36.0 L501.2,40.1 L500.8,38.1 L498.9,37.6 Z" fill="#111"/>
<line x1="482.4" y1="61.9" x2="497.7" y2="70.7" stroke="#111" stroke-width="0.9"/>
<path d="M500.5,72.3 L496.0,71.7 L497.8,70.8 L497.7,68.7 Z" fill="#111"/>
<line x1="478.8" y1="59.0" x2="449.7" y2="85.7" stroke="#111" stroke-width="0.9"/>
<path d="M447.3,87.9 L449.2,83.8 L449.6,85.8 L451.5,86.3 Z" fill="#111"/>
<text x="482.7" y="34.6" font-size="7.5" fill="#c878b8">Ery</text>
<text x="499.5" y="63.9" font-size="8" fill="#f08a28">Mk</text>
<text x="435.0" y="77.6" font-size="8" fill="#7a3fb0">My</text>
<text x="436.2" y="109.1" font-size="7.6" fill="#4050a8">DC</text>
<text x="417.2" y="82.80000000000001" font-size="7.5" fill="#b8b850">B</text>
<line x1="282.8" y1="149.2" x2="282.8" y2="249.39999999999998" stroke="#b0b0b0" stroke-width="0.7"/>
<line x1="284.3" y1="251.09999999999997" x2="383.8" y2="251.09999999999997" stroke="#b0b0b0" stroke-width="0.7"/>
<line x1="281.2" y1="149.2" x2="282.8" y2="149.2" stroke="#b0b0b0" stroke-width="0.7"/>
<text x="279.40000000000003" y="152.29999999999998" font-size="7.5" text-anchor="end" fill="#231f20">12</text>
<line x1="281.2" y1="182.58242105263156" x2="282.8" y2="182.58242105263156" stroke="#b0b0b0" stroke-width="0.7"/>
<text x="279.40000000000003" y="185.68242105263155" font-size="7.5" text-anchor="end" fill="#231f20">5.67</text>
<line x1="281.2" y1="216.0175789473684" x2="282.8" y2="216.0175789473684" stroke="#b0b0b0" stroke-width="0.7"/>
<text x="279.40000000000003" y="219.1175789473684" font-size="7.5" text-anchor="end" fill="#231f20">–0.67</text>
<line x1="281.2" y1="249.39999999999998" x2="282.8" y2="249.39999999999998" stroke="#b0b0b0" stroke-width="0.7"/>
<text x="279.40000000000003" y="252.49999999999997" font-size="7.5" text-anchor="end" fill="#231f20">–7</text>
<line x1="284.3" y1="251.09999999999997" x2="284.3" y2="252.59999999999997" stroke="#b0b0b0" stroke-width="0.7"/>
<text x="285.5" y="260.4" font-size="7.5" text-anchor="middle" fill="#231f20">–15</text>
<line x1="317.45255319148936" y1="251.09999999999997" x2="317.45255319148936" y2="252.59999999999997" stroke="#b0b0b0" stroke-width="0.7"/>
<text x="318.65255319148935" y="260.4" font-size="7.5" text-anchor="middle" fill="#231f20">–7.17</text>
<line x1="350.64744680851067" y1="251.09999999999997" x2="350.64744680851067" y2="252.59999999999997" stroke="#b0b0b0" stroke-width="0.7"/>
<text x="350.64744680851067" y="260.4" font-size="7.5" text-anchor="middle" fill="#231f20">0.67</text>
<line x1="383.8" y1="251.09999999999997" x2="383.8" y2="252.59999999999997" stroke="#b0b0b0" stroke-width="0.7"/>
<text x="383.8" y="260.4" font-size="7.5" text-anchor="middle" fill="#231f20">8.5</text>
<text x="285.6" y="155.29999999999998" font-size="7.6" fill="#231f20">R878H/+;</text>
<text x="285.6" y="164.29999999999998" font-size="7.6" fill="#231f20">R1KO</text>
<g filter="url(#rough2)">
<path d="M351.6,191.6 C353.1,190.6 356.3,193.4 359.2,195.0 C362.1,196.6 365.4,198.6 368.1,200.7 C370.7,202.9 373.1,204.9 374.4,207.1 C375.7,209.3 375.4,211.0 375.3,213.4 C375.2,215.9 374.4,217.9 373.9,221.0 C373.4,224.1 373.4,227.8 372.6,231.2 C371.8,234.6 370.8,237.9 369.3,240.3 C367.9,242.7 366.0,244.4 364.3,244.8 C362.5,245.1 360.8,243.7 359.2,242.2 C357.6,240.8 356.9,238.8 355.1,236.5 C353.3,234.2 350.5,231.6 349.0,228.9 C347.6,226.2 346.9,224.2 346.9,221.0 C346.8,217.9 348.2,214.4 348.8,210.9 C349.4,207.3 349.8,204.1 350.3,200.7 C350.8,197.4 350.0,192.6 351.6,191.6 Z" fill="url(#g3)"/>
</g><g filter="url(#rough3)">
<path d="M347.1,222.3 C348.7,221.6 350.5,223.9 355.4,226.1 C360.3,228.3 362.5,229.9 366.8,231.2 C371.1,232.5 372.0,228.9 372.6,231.2 C373.3,233.5 371.4,236.9 369.3,240.3 C367.2,243.7 366.8,244.3 364.3,244.8 C361.7,245.2 361.5,244.3 359.2,242.2 C356.9,240.2 357.7,239.8 355.1,236.5 C352.6,233.2 351.0,232.5 349.0,228.9 C347.0,225.4 345.5,223.0 347.1,222.3 Z" fill="url(#g3)"/>
<path d="M371.9,197.6 C372.4,195.8 373.4,195.9 374.7,196.7 C375.9,197.5 376.2,198.1 376.7,200.7 C377.1,203.3 377.2,205.1 376.4,207.1 C375.7,209.1 374.7,209.4 373.8,208.6 C372.8,207.8 373.0,206.7 372.5,203.9 C372.0,201.2 371.3,199.4 371.9,197.6 Z" fill="#f0902e"/>
<path d="M353.5,179.4 C354.3,178.5 355.3,178.2 357.3,178.2 C359.2,178.1 360.3,178.3 361.2,179.2 C362.1,180.1 362.0,180.8 361.0,181.7 C359.9,182.6 358.7,182.7 356.9,182.7 C355.1,182.7 354.7,182.5 353.8,181.7 C353.0,180.9 352.6,180.3 353.5,179.4 Z" fill="#d8302e"/>
<path d="M342.7,179.4 C343.4,178.9 344.6,178.7 345.9,178.9 C347.1,179.2 347.7,179.7 347.8,180.4 C347.9,181.2 347.4,181.8 346.2,182.0 C345.1,182.2 344.1,181.8 343.2,181.2 C342.3,180.6 342.0,180.0 342.7,179.4 Z" fill="#b8303a"/>
<path d="M341.7,190.1 C341.9,189.5 342.6,189.1 343.2,189.3 C343.8,189.5 344.1,190.2 344.0,190.8 C343.8,191.5 343.0,192.1 342.4,191.9 C341.9,191.7 341.5,190.7 341.7,190.1 Z" fill="#b870d0"/>
<path d="M371.2,166.2 C371.8,164.7 372.4,164.2 373.8,164.0 C375.1,163.7 375.9,163.9 376.7,165.2 C377.5,166.6 377.5,167.7 376.9,169.3 C376.4,170.9 375.7,171.4 374.4,171.6 C373.1,171.8 372.4,171.4 371.6,170.0 C370.8,168.7 370.7,167.8 371.2,166.2 Z" fill="#c058b0"/>
</g>
<path d="M357.3,188.3 C358.7,189.4 360.3,190.2 363.0,192.5 C365.7,194.8 365.7,195.2 368.1,197.6 C370.4,199.9 371.4,200.9 372.5,202.0" fill="none" stroke="#f0a050" stroke-width="1.6" stroke-dasharray="1.2,0.8"/>
<path d="M361.2,179.4 C362.6,178.3 364.1,177.3 366.8,174.7 C369.5,172.1 370.6,170.5 371.9,169.0" fill="none" stroke="#d0608a" stroke-width="1.1"/>
<circle cx="322.5" cy="229.2" r="0.3" fill="#9ad0e0" opacity="0.7"/>
<circle cx="328.3" cy="224.9" r="0.3" fill="#7fc8b8" opacity="0.7"/>
<circle cx="321.7" cy="219.3" r="0.3" fill="#9a9ad8" opacity="0.7"/>
<circle cx="343.1" cy="226.8" r="0.3" fill="#9ad0e0" opacity="0.7"/>
<circle cx="352.6" cy="229.7" r="0.3" fill="#e8c0a0" opacity="0.7"/>
<circle cx="326.0" cy="225.0" r="0.3" fill="#9a9ad8" opacity="0.7"/>
<circle cx="346.6" cy="204.3" r="0.3" fill="#7fc8b8" opacity="0.7"/>
<circle cx="342.1" cy="226.0" r="0.3" fill="#e8c0a0" opacity="0.7"/>
<circle cx="346.2" cy="217.1" r="0.3" fill="#7fc8b8" opacity="0.7"/>
<circle cx="317.0" cy="232.2" r="0.3" fill="#e8c0a0" opacity="0.7"/>
<circle cx="342.2" cy="218.0" r="0.3" fill="#7fc8b8" opacity="0.7"/>
<circle cx="335.7" cy="224.3" r="0.3" fill="#7fc8b8" opacity="0.7"/>
<circle cx="349.7" cy="214.0" r="0.3" fill="#e8c0a0" opacity="0.7"/>
<circle cx="349.7" cy="227.1" r="0.3" fill="#7fc8b8" opacity="0.7"/>
<circle cx="336.3" cy="212.8" r="0.3" fill="#7fc8b8" opacity="0.7"/>
<circle cx="329.6" cy="213.1" r="0.3" fill="#9ad0e0" opacity="0.7"/>
<circle cx="326.2" cy="211.3" r="0.3" fill="#e8c0a0" opacity="0.7"/>
<circle cx="333.3" cy="215.0" r="0.3" fill="#7fc8b8" opacity="0.7"/>
<circle cx="327.3" cy="239.7" r="0.3" fill="#9ad0e0" opacity="0.7"/>
<circle cx="329.4" cy="223.3" r="0.3" fill="#7fc8b8" opacity="0.7"/>
<circle cx="343.3" cy="219.7" r="0.3" fill="#e8c0a0" opacity="0.7"/>
<circle cx="333.2" cy="226.9" r="0.3" fill="#9ad0e0" opacity="0.7"/>
<circle cx="327.6" cy="220.2" r="0.3" fill="#9ad0e0" opacity="0.7"/>
<circle cx="344.9" cy="220.9" r="0.3" fill="#9a9ad8" opacity="0.7"/>
<circle cx="341.0" cy="221.2" r="0.3" fill="#e8c0a0" opacity="0.7"/>
<circle cx="341.1" cy="222.4" r="0.3" fill="#e8c0a0" opacity="0.7"/>
<circle cx="341.2" cy="216.3" r="0.3" fill="#7fc8b8" opacity="0.7"/>
<circle cx="329.5" cy="205.7" r="0.3" fill="#9a9ad8" opacity="0.7"/>
<circle cx="332.1" cy="213.7" r="0.3" fill="#9a9ad8" opacity="0.7"/>
<circle cx="334.0" cy="208.6" r="0.3" fill="#9ad0e0" opacity="0.7"/>
<circle cx="328.1" cy="219.4" r="0.3" fill="#9ad0e0" opacity="0.7"/>
<circle cx="335.7" cy="225.5" r="0.3" fill="#9a9ad8" opacity="0.7"/>
<circle cx="345.6" cy="227.2" r="0.3" fill="#9ad0e0" opacity="0.7"/>
<circle cx="344.0" cy="212.9" r="0.3" fill="#7fc8b8" opacity="0.7"/>
<circle cx="340.1" cy="217.6" r="0.3" fill="#e8c0a0" opacity="0.7"/>
<circle cx="336.9" cy="219.9" r="0.3" fill="#9ad0e0" opacity="0.7"/>
<circle cx="321.2" cy="226.4" r="0.3" fill="#9ad0e0" opacity="0.7"/>
<circle cx="318.0" cy="231.2" r="0.3" fill="#9a9ad8" opacity="0.7"/>
<circle cx="331.0" cy="188.2" r="0.3" fill="#9ad0e0" opacity="0.7"/>
<circle cx="331.7" cy="224.3" r="0.3" fill="#e8c0a0" opacity="0.7"/>
<circle cx="349.3" cy="221.8" r="0.3" fill="#e8c0a0" opacity="0.7"/>
<circle cx="350.2" cy="197.1" r="0.3" fill="#e8c0a0" opacity="0.7"/>
<circle cx="335.2" cy="219.8" r="0.3" fill="#9a9ad8" opacity="0.7"/>
<circle cx="343.9" cy="223.8" r="0.3" fill="#7fc8b8" opacity="0.7"/>
<circle cx="319.2" cy="213.5" r="0.3" fill="#e8c0a0" opacity="0.7"/>
<circle cx="323.3" cy="232.3" r="0.3" fill="#e8c0a0" opacity="0.7"/>
<circle cx="348.1" cy="226.6" r="0.3" fill="#9ad0e0" opacity="0.7"/>
<circle cx="319.2" cy="233.7" r="0.3" fill="#9ad0e0" opacity="0.7"/>
<circle cx="327.5" cy="232.4" r="0.3" fill="#e8c0a0" opacity="0.7"/>
<circle cx="344.9" cy="221.0" r="0.3" fill="#e8c0a0" opacity="0.7"/>
<circle cx="288.1" cy="217.7" r="0.35" fill="#d8e080" opacity="0.8"/>
<circle cx="287.9" cy="214.8" r="0.35" fill="#d8e080" opacity="0.8"/>
<circle cx="287.8" cy="202.2" r="0.35" fill="#c8c8a0" opacity="0.8"/>
<circle cx="287.1" cy="222.0" r="0.35" fill="#d8e080" opacity="0.8"/>
<circle cx="287.7" cy="228.3" r="0.35" fill="#c8c8a0" opacity="0.8"/>
<circle cx="288.7" cy="214.5" r="0.35" fill="#d8e080" opacity="0.8"/>
<circle cx="288.7" cy="218.0" r="0.35" fill="#c8c8a0" opacity="0.8"/>
<circle cx="287.5" cy="209.5" r="0.35" fill="#c8c8a0" opacity="0.8"/>
<circle cx="288.5" cy="202.2" r="0.35" fill="#c8c8a0" opacity="0.8"/>
<circle cx="288.7" cy="223.3" r="0.35" fill="#d8e080" opacity="0.8"/>
<circle cx="297.1" cy="193.8" r="0.35" fill="#d8e080" opacity="0.8"/>
<circle cx="296.4" cy="197.3" r="0.35" fill="#c0d890" opacity="0.8"/>
<circle cx="295.8" cy="200.7" r="0.35" fill="#d8e080" opacity="0.8"/>
<circle cx="296.2" cy="198.9" r="0.35" fill="#d8e080" opacity="0.8"/>
<circle cx="296.8" cy="200.5" r="0.35" fill="#d8e080" opacity="0.8"/>
<circle cx="296.1" cy="199.7" r="0.35" fill="#d8e080" opacity="0.8"/>
<circle cx="298.0" cy="198.3" r="0.35" fill="#d8e080" opacity="0.8"/>
<circle cx="296.8" cy="200.7" r="0.35" fill="#d8e080" opacity="0.8"/>
<path d="M300.4,230.7 l0.9,-3.8 l1.3,5.4 M300.8,233.2 l1.4,0.6 l0.9,-1.2" fill="none" stroke="#34409a" stroke-width="0.8"/>
<line x1="350.2" y1="190.2" x2="371.0" y2="170.0" stroke="#111" stroke-width="0.9"/>
<path d="M373.3,167.8 L371.5,171.9 L371.1,170.0 L369.1,169.5 Z" fill="#111"/>
<line x1="351.2" y1="191.2" x2="371.5" y2="200.9" stroke="#111" stroke-width="0.9"/>
<path d="M374.4,202.3 L369.9,202.0 L371.6,201.0 L371.3,199.0 Z" fill="#111"/>
<line x1="351.8" y1="194.2" x2="363.4" y2="227.6" stroke="#111" stroke-width="0.9"/>
<path d="M364.4,230.6 L361.4,227.2 L363.4,227.7 L364.6,226.1 Z" fill="#111"/>
<text x="357.3" y="166.79999999999998" font-size="7.5" fill="#c060b0">Ery</text>
<text x="371.8" y="192.79999999999998" font-size="7.5" fill="#f08a28">Mk</text>
<text x="373.3" y="245.0" font-size="7.5" fill="#7a3fb0">My</text>
<text x="309.3" y="237.89999999999998" font-size="7.5" fill="#4050a8">DC</text>
<line x1="410.2" y1="149.3" x2="410.2" y2="249.5" stroke="#b0b0b0" stroke-width="0.7"/>
<line x1="411.7" y1="251.2" x2="511.2" y2="251.2" stroke="#b0b0b0" stroke-width="0.7"/>
<line x1="408.59999999999997" y1="149.3" x2="410.2" y2="149.3" stroke="#b0b0b0" stroke-width="0.7"/>
<text x="406.8" y="152.4" font-size="7.5" text-anchor="end" fill="#231f20">12</text>
<line x1="408.59999999999997" y1="182.68242105263158" x2="410.2" y2="182.68242105263158" stroke="#b0b0b0" stroke-width="0.7"/>
<text x="406.8" y="185.78242105263158" font-size="7.5" text-anchor="end" fill="#231f20">5.67</text>
<line x1="408.59999999999997" y1="216.11757894736843" x2="410.2" y2="216.11757894736843" stroke="#b0b0b0" stroke-width="0.7"/>
<text x="406.8" y="219.21757894736842" font-size="7.5" text-anchor="end" fill="#231f20">–0.67</text>
<line x1="408.59999999999997" y1="249.5" x2="410.2" y2="249.5" stroke="#b0b0b0" stroke-width="0.7"/>
<text x="406.8" y="252.6" font-size="7.5" text-anchor="end" fill="#231f20">–7</text>
<line x1="411.7" y1="251.2" x2="411.7" y2="252.7" stroke="#b0b0b0" stroke-width="0.7"/>
<text x="412.9" y="260.5" font-size="7.5" text-anchor="middle" fill="#231f20">–15</text>
<line x1="444.85255319148933" y1="251.2" x2="444.85255319148933" y2="252.7" stroke="#b0b0b0" stroke-width="0.7"/>
<text x="446.0525531914893" y="260.5" font-size="7.5" text-anchor="middle" fill="#231f20">–7.17</text>
<line x1="478.04744680851064" y1="251.2" x2="478.04744680851064" y2="252.7" stroke="#b0b0b0" stroke-width="0.7"/>
<text x="478.04744680851064" y="260.5" font-size="7.5" text-anchor="middle" fill="#231f20">0.67</text>
<line x1="511.2" y1="251.2" x2="511.2" y2="252.7" stroke="#b0b0b0" stroke-width="0.7"/>
<text x="511.2" y="260.5" font-size="7.5" text-anchor="middle" fill="#231f20">8.5</text>
<text x="415.4" y="155.4" font-size="7.6" fill="#231f20">R878H/+;</text>
<text x="415.4" y="164.4" font-size="7.6" fill="#231f20">R2KO</text>
<g filter="url(#rough2)">
<path d="M477.8,192.3 C476.5,191.9 473.7,195.6 470.4,197.4 C467.1,199.2 464.5,199.4 461.2,201.2 C457.8,203.1 456.0,204.2 453.5,206.6 C450.9,209.0 449.8,210.5 448.5,213.1 C447.2,215.7 446.8,217.0 447.0,219.5 C447.2,222.1 447.7,224.2 449.6,225.7 C451.5,227.2 453.7,227.2 456.5,227.2 C459.4,227.2 461.4,227.3 463.8,225.7 C466.1,224.1 466.6,222.7 468.4,219.2 C470.2,215.8 471.2,212.5 472.8,208.5 C474.5,204.5 475.6,202.5 476.5,199.2 C477.5,196.0 479.0,192.7 477.8,192.3 Z" fill="url(#g4a)"/>
<path d="M477.5,196.2 C478.1,193.7 479.2,193.7 479.6,196.2 C480.1,198.6 479.9,203.2 479.8,208.5 C479.6,213.7 479.5,217.4 479.0,222.3 C478.5,227.2 477.9,229.0 477.5,233.1 C477.0,237.1 477.5,239.6 476.8,242.6 C476.2,245.6 475.4,248.1 474.4,248.0 C473.4,247.9 472.3,245.3 471.9,242.3 C471.6,239.3 472.1,237.1 472.5,233.1 C473.0,229.1 473.3,227.2 474.1,222.3 C474.8,217.4 475.6,213.7 476.2,208.5 C476.9,203.2 476.8,198.6 477.5,196.2 Z" fill="url(#g4c)"/>
<path d="M478.8,192.3 C480.4,190.7 483.8,193.9 487.3,195.8 C490.8,197.8 493.4,199.2 496.5,202.0 C499.6,204.8 501.4,206.6 502.8,209.7 C504.3,212.8 503.8,213.6 503.8,217.7 C503.8,221.8 503.6,225.6 502.8,230.0 C502.0,234.4 501.6,236.9 499.8,239.5 C497.9,242.2 496.3,243.2 493.5,243.4 C490.7,243.5 488.2,242.9 485.8,240.3 C483.3,237.7 482.5,235.1 481.2,230.3 C479.8,225.5 479.2,221.4 478.8,216.2 C478.5,210.9 479.5,208.6 479.5,203.8 C479.5,199.1 477.3,193.9 478.8,192.3 Z" fill="url(#g4b)"/>
</g><g filter="url(#rough3)">
<path d="M447.0,217.7 C447.6,216.3 449.2,218.8 451.9,220.0 C454.7,221.2 455.1,220.9 458.1,222.3 C461.0,223.7 464.2,224.5 463.8,225.7 C463.4,226.9 460.1,227.2 456.5,227.2 C453.0,227.2 452.0,228.1 449.6,225.7 C447.2,223.3 446.4,219.1 447.0,217.7 Z" fill="url(#g4a)"/>
<path d="M481.2,230.3 C481.9,228.7 485.0,232.6 488.8,233.8 C492.7,235.1 493.0,236.3 496.5,235.4 C500.0,234.4 502.0,229.0 502.8,230.0 C503.7,231.0 502.1,236.2 499.8,239.5 C497.4,242.9 497.0,243.2 493.5,243.4 C490.0,243.6 488.8,243.6 485.8,240.3 C482.7,237.0 480.4,231.9 481.2,230.3 Z" fill="url(#g4b)"/>
<path d="M472.8,233.8 C474.2,231.7 476.2,231.7 477.2,233.8 C478.2,236.0 477.5,239.1 476.8,242.6 C476.2,246.2 475.6,248.1 474.4,248.0 C473.2,247.9 472.3,245.8 471.9,242.3 C471.5,238.8 471.5,236.0 472.8,233.8 Z" fill="url(#g4c)"/>
<path d="M488.1,188.8 C489.2,188.3 490.0,188.8 492.7,190.3 C495.4,191.8 496.0,192.2 498.8,194.6 C501.7,197.0 502.4,196.9 504.2,200.0 C506.0,203.1 506.5,204.3 506.1,206.9 C505.7,209.5 504.5,211.1 502.7,210.3 C500.9,209.5 501.2,207.2 498.8,203.8 C496.5,200.5 496.2,199.8 493.5,196.9 C490.8,194.0 489.4,194.3 488.1,192.3 C486.7,190.3 486.9,189.3 488.1,188.8 Z" fill="#f0902e"/>
<path d="M479.6,181.5 C480.0,179.8 481.2,179.7 483.5,178.9 C485.8,178.2 487.0,177.8 488.8,178.5 C490.7,179.1 491.2,179.9 491.0,181.5 C490.8,183.2 490.3,184.0 488.1,185.1 C485.8,186.1 484.0,186.6 481.9,185.7 C479.8,184.8 479.2,183.2 479.6,181.5 Z" fill="#d8302e"/>
<path d="M498.7,165.4 C499.4,163.8 500.3,163.0 502.1,162.9 C503.8,162.8 504.9,163.5 505.8,165.1 C506.6,166.7 506.3,167.8 505.5,169.4 C504.6,170.9 503.9,171.2 502.4,171.2 C500.8,171.2 500.2,170.8 499.3,169.4 C498.4,167.9 498.0,167.0 498.7,165.4 Z" fill="#b84aa8"/>
<path d="M471.3,178.6 C471.5,177.9 472.7,177.5 473.5,177.7 C474.2,177.9 474.6,178.8 474.4,179.5 C474.2,180.2 473.3,180.7 472.5,180.5 C471.8,180.2 471.1,179.3 471.3,178.6 Z" fill="#b83060"/>
</g>
<circle cx="465.0" cy="188.4" r="0.4" fill="#e07090" opacity="0.8"/>
<circle cx="475.1" cy="183.7" r="0.4" fill="#e07090" opacity="0.8"/>
<circle cx="470.4" cy="176.2" r="0.4" fill="#c878c0" opacity="0.8"/>
<circle cx="468.3" cy="179.2" r="0.4" fill="#d060a0" opacity="0.8"/>
<circle cx="474.7" cy="177.2" r="0.4" fill="#e07090" opacity="0.8"/>
<circle cx="471.1" cy="179.3" r="0.4" fill="#c878c0" opacity="0.8"/>
<circle cx="474.0" cy="186.7" r="0.4" fill="#d060a0" opacity="0.8"/>
<circle cx="474.3" cy="184.2" r="0.4" fill="#c878c0" opacity="0.8"/>
<circle cx="474.7" cy="183.0" r="0.4" fill="#e07090" opacity="0.8"/>
<circle cx="478.4" cy="181.0" r="0.4" fill="#d060a0" opacity="0.8"/>
<circle cx="473.2" cy="179.4" r="0.4" fill="#e07090" opacity="0.8"/>
<circle cx="475.8" cy="181.2" r="0.4" fill="#e07090" opacity="0.8"/>
<circle cx="476.1" cy="178.9" r="0.4" fill="#e07090" opacity="0.8"/>
<circle cx="475.1" cy="180.6" r="0.4" fill="#e07090" opacity="0.8"/>
<circle cx="474.3" cy="182.9" r="0.4" fill="#c878c0" opacity="0.8"/>
<circle cx="478.8" cy="180.2" r="0.4" fill="#d060a0" opacity="0.8"/>
<circle cx="469.3" cy="188.5" r="0.4" fill="#e07090" opacity="0.8"/>
<circle cx="469.4" cy="176.1" r="0.4" fill="#c878c0" opacity="0.8"/>
<circle cx="475.8" cy="180.5" r="0.4" fill="#c878c0" opacity="0.8"/>
<circle cx="473.4" cy="176.8" r="0.4" fill="#d060a0" opacity="0.8"/>
<circle cx="472.9" cy="183.3" r="0.4" fill="#d060a0" opacity="0.8"/>
<circle cx="475.2" cy="181.3" r="0.4" fill="#c878c0" opacity="0.8"/>
<circle cx="472.8" cy="178.6" r="0.4" fill="#d060a0" opacity="0.8"/>
<circle cx="475.7" cy="176.6" r="0.4" fill="#e07090" opacity="0.8"/>
<circle cx="475.4" cy="185.3" r="0.4" fill="#d060a0" opacity="0.8"/>
<circle cx="478.2" cy="182.4" r="0.4" fill="#e07090" opacity="0.8"/>
<circle cx="475.7" cy="182.2" r="0.4" fill="#e07090" opacity="0.8"/>
<circle cx="473.2" cy="178.8" r="0.4" fill="#c878c0" opacity="0.8"/>
<circle cx="476.0" cy="182.9" r="0.4" fill="#c878c0" opacity="0.8"/>
<circle cx="472.8" cy="196.1" r="0.4" fill="#c878c0" opacity="0.8"/>
<path d="M489.6,180.0 C491.2,178.7 493.1,177.5 495.8,174.6 C498.5,171.7 499.2,170.0 500.4,168.5" fill="none" stroke="#d0507a" stroke-width="1.6"/>
<circle cx="421.9" cy="233.5" r="0.35" fill="#b0d8a0" opacity="0.8"/>
<circle cx="423.1" cy="202.8" r="0.35" fill="#b0d8a0" opacity="0.8"/>
<circle cx="420.6" cy="224.3" r="0.35" fill="#b0d8a0" opacity="0.8"/>
<circle cx="422.3" cy="211.8" r="0.35" fill="#b0d8a0" opacity="0.8"/>
<circle cx="423.2" cy="218.0" r="0.35" fill="#e8d860" opacity="0.8"/>
<circle cx="420.7" cy="223.3" r="0.35" fill="#b0d8a0" opacity="0.8"/>
<circle cx="421.9" cy="214.2" r="0.35" fill="#e8d860" opacity="0.8"/>
<circle cx="423.5" cy="219.0" r="0.35" fill="#e8d860" opacity="0.8"/>
<path d="M429.7,225.3 l1,3 l-1,2.5 l2,2" fill="none" stroke="#3848a0" stroke-width="0.9"/>
<line x1="478.5" y1="190.8" x2="500.8" y2="169.7" stroke="#111" stroke-width="0.9"/>
<path d="M503.1,167.5 L501.2,171.6 L500.8,169.6 L498.9,169.2 Z" fill="#111"/>
<line x1="478.5" y1="190.8" x2="501.5" y2="202.4" stroke="#111" stroke-width="0.9"/>
<path d="M504.4,203.8 L499.9,203.4 L501.6,202.4 L501.4,200.4 Z" fill="#111"/>
<line x1="478.5" y1="190.8" x2="452.2" y2="217.1" stroke="#111" stroke-width="0.9"/>
<path d="M449.9,219.4 L451.7,215.2 L452.1,217.2 L454.1,217.6 Z" fill="#111"/>
<line x1="479.0" y1="191.8" x2="491.7" y2="229.4" stroke="#111" stroke-width="0.9"/>
<path d="M492.7,232.4 L489.7,229.0 L491.7,229.5 L493.0,227.9 Z" fill="#111"/>
<text x="486.0" y="166.5" font-size="7.5" fill="#c060b0">Ery</text>
<text x="502.7" y="192.60000000000002" font-size="7.5" fill="#f08a28">Mk</text>
<text x="436.7" y="206.70000000000002" font-size="7.5" fill="#7a3fb0">My</text>
<text x="438.2" y="236.9" font-size="7.5" fill="#4050a8">DC</text>
<text x="457.2" y="246.3" font-size="7.5" fill="#7a3fb0">My</text>
<text x="503.2" y="244.10000000000002" font-size="7.5" fill="#7a3fb0">My</text>
<line x1="259.4" y1="264.9" x2="259.4" y2="250.3" stroke="#111" stroke-width="1.2"/>
<path d="M259.4,244.8 L262.3,251.3 L259.4,250.2 L256.5,251.3 Z" fill="#111"/>
<line x1="258.8" y1="264.3" x2="274.0" y2="264.3" stroke="#111" stroke-width="1.2"/>
<path d="M279.5,264.3 L273.0,267.2 L274.1,264.3 L273.0,261.4 Z" fill="#111"/>
<text x="252.8" y="261" font-size="7.5" text-anchor="middle" fill="#231f20">Y</text>
<text x="266.8" y="274.8" font-size="7.5" text-anchor="middle" fill="#231f20">X</text>
<text x="41.2" y="14.2" font-size="7.5" text-anchor="middle" fill="#231f20">20 Weeks</text>
<text x="41.2" y="23.7" font-size="7.5" text-anchor="middle" fill="#231f20">after 2<tspan font-size="5" dy="-2.6">o</tspan><tspan dy="2.6"> transplant</tspan></text>
<text x="41.2" y="33" font-size="7.5" text-anchor="middle" fill="#231f20">(Fig. 3)</text>
<g fill="none" stroke="#111" stroke-width="1.8" stroke-linecap="round" stroke-linejoin="round">
<path d="M77,30.3 C79.5,21.5 86,15.9 93.2,15.9 C101.2,15.9 106.6,23 106.9,32.2 L78.2,32.2 C76.8,32.2 76.5,31.4 77,30.3 Z"/>
<path d="M85.8,19.8 C89.3,19 90.8,23.2 89,25.8 C88,27.2 86.2,27.3 85.6,26.3" stroke-width="1.3"/>
<path d="M107,31.3 C108.8,27.6 112.2,26.2 114.3,28.6 C116.2,31 119,34 123.8,33.3" stroke-width="1.4"/>
</g>
<circle cx="81.5" cy="27.3" r="1.25" fill="#111"/>
<g transform="translate(113.5,17.7) rotate(-31)" fill="#fff" stroke="#b8b8b8" stroke-width="0.9" stroke-linejoin="round"><path d="M-4.2,-1.4 C-4.6,-3.6 -7.8,-2.8 -6.6,-0.6 C-6.4,-0.2 -6.4,0.2 -6.6,0.6 C-7.8,2.8 -4.6,3.6 -4.2,1.4 L4.2,1.4 C4.6,3.6 7.8,2.8 6.6,0.6 C6.4,0.2 6.4,-0.2 6.6,-0.6 C7.8,-2.8 4.6,-3.6 4.2,-1.4 Z"/></g>
<line x1="123.3" y1="25.8" x2="136" y2="25.8" stroke="#111" stroke-width="1.4"/>
<path d="M140.3,25.8 L134.2,22.8 L135.6,25.8 L134.2,28.8 Z" fill="#111"/>
<text x="175.8" y="21.3" font-size="7.7" text-anchor="middle" fill="#231f20">Sorted CD45.2<tspan font-size="5" dy="-2.5">+</tspan><tspan dy="2.5"> Kit</tspan><tspan font-size="5" dy="-2.5">+</tspan></text>
<text x="175.8" y="32" font-size="7.7" text-anchor="middle" fill="#231f20">cells for scRNA-seq</text>
<line x1="32.9" y1="341.9" x2="196.8" y2="341.9" stroke="#111" stroke-width="1.0"/>
<line x1="33.4" y1="231.4" x2="33.4" y2="341.9" stroke="#111" stroke-width="1.0"/>
<line x1="30.4" y1="341.9" x2="33.4" y2="341.9" stroke="#111" stroke-width="1.0"/>
<text x="29.099999999999998" y="344.5" font-size="7.5" text-anchor="end" fill="#231f20">0</text>
<line x1="30.4" y1="305.29999999999995" x2="33.4" y2="305.29999999999995" stroke="#111" stroke-width="1.0"/>
<text x="29.099999999999998" y="307.9" font-size="7.5" text-anchor="end" fill="#231f20">5</text>
<line x1="30.4" y1="268.7" x2="33.4" y2="268.7" stroke="#111" stroke-width="1.0"/>
<text x="29.099999999999998" y="271.3" font-size="7.5" text-anchor="end" fill="#231f20">10</text>
<line x1="30.4" y1="232.09999999999997" x2="33.4" y2="232.09999999999997" stroke="#111" stroke-width="1.0"/>
<text x="29.099999999999998" y="234.69999999999996" font-size="7.5" text-anchor="end" fill="#231f20">15</text>
<line x1="33.4" y1="341.9" x2="33.4" y2="344.9" stroke="#111" stroke-width="1.0"/>
<text x="33.4" y="354.9" font-size="7.5" text-anchor="middle" fill="#231f20">0.0</text>
<line x1="66.15" y1="341.9" x2="66.15" y2="344.9" stroke="#111" stroke-width="1.0"/>
<text x="66.15" y="354.9" font-size="7.5" text-anchor="middle" fill="#231f20">0.5</text>
<line x1="98.9" y1="341.9" x2="98.9" y2="344.9" stroke="#111" stroke-width="1.0"/>
<text x="98.9" y="354.9" font-size="7.5" text-anchor="middle" fill="#231f20">1.0</text>
<line x1="131.65" y1="341.9" x2="131.65" y2="344.9" stroke="#111" stroke-width="1.0"/>
<text x="131.65" y="354.9" font-size="7.5" text-anchor="middle" fill="#231f20">1.5</text>
<line x1="164.4" y1="341.9" x2="164.4" y2="344.9" stroke="#111" stroke-width="1.0"/>
<text x="164.4" y="354.9" font-size="7.5" text-anchor="middle" fill="#231f20">2.0</text>
<line x1="197.15" y1="341.9" x2="197.15" y2="344.9" stroke="#111" stroke-width="1.0"/>
<text x="197.15" y="354.9" font-size="7.5" text-anchor="middle" fill="#231f20">2.5</text>
<text transform="translate(14.6,288) rotate(-90)" font-size="7.7" text-anchor="middle" fill="#231f20">Number of genes</text>
<text x="113.5" y="367" font-size="7.55" text-anchor="middle" fill="#231f20">TNF signaling enrichment score</text>
<text x="114" y="376.8" font-size="7.55" text-anchor="middle" fill="#231f20">UP in R878H/+ vs. control</text>
<circle cx="97.2" cy="239.4" r="6.05" fill="#7d2a36" stroke="#5a1e26" stroke-width="0.8"/>
<circle cx="86.1" cy="246.7" r="5.35" fill="#5e1d26" stroke="#43141b" stroke-width="0.8"/>
<circle cx="71.0" cy="254.1" r="4.25" fill="#3d0f15" stroke="#2b0a0f" stroke-width="0.8"/>
<circle cx="70.4" cy="261.4" r="4.25" fill="#3d0f15" stroke="#2b0a0f" stroke-width="0.8"/>
<circle cx="111.0" cy="254.1" r="6.75" fill="#8e3242" stroke="#66242f" stroke-width="0.8"/>
<circle cx="82.8" cy="268.7" r="5.05" fill="#5a1b24" stroke="#401319" stroke-width="0.8"/>
<circle cx="76.3" cy="283.3" r="4.65" fill="#4a141b" stroke="#350e13" stroke-width="0.8"/>
<circle cx="62.5" cy="290.7" r="3.75" fill="#23070a" stroke="#190507" stroke-width="0.8"/>
<circle cx="97.2" cy="290.7" r="6.05" fill="#7d2a36" stroke="#5a1e26" stroke-width="0.8"/>
<circle cx="57.9" cy="298.0" r="3.45" fill="#1c0507" stroke="#140305" stroke-width="0.8"/>
<circle cx="57.3" cy="305.3" r="3.45" fill="#1c0507" stroke="#140305" stroke-width="0.8"/>
<circle cx="101.8" cy="305.3" r="6.35" fill="#8a3040" stroke="#63222e" stroke-width="0.8"/>
<circle cx="134.6" cy="298.0" r="8.35" fill="#bf4a5d" stroke="#893542" stroke-width="0.8"/>
<circle cx="177.1" cy="298.0" r="9.55" fill="#ee607a" stroke="#ab4557" stroke-width="0.8"/>
<circle cx="75.6" cy="312.6" r="4.65" fill="#4a141b" stroke="#350e13" stroke-width="0.8"/>
<circle cx="43.5" cy="312.6" r="2.35" fill="#050001" stroke="#030000" stroke-width="0.8"/>
<circle cx="46.8" cy="312.6" r="2.45" fill="#050001" stroke="#030000" stroke-width="0.8"/>
<circle cx="51.4" cy="312.6" r="2.75" fill="#0a0102" stroke="#070001" stroke-width="0.8"/>
<circle cx="42.9" cy="327.3" r="1.95" fill="#050001" stroke="#030000" stroke-width="0.8"/>
<circle cx="63.8" cy="327.3" r="3.85" fill="#360c12" stroke="#26080c" stroke-width="0.8"/>
<circle cx="86.1" cy="327.3" r="5.25" fill="#5e1d26" stroke="#43141b" stroke-width="0.8"/>
<circle cx="35.7" cy="334.6" r="0.50" fill="#000" stroke="#000" stroke-width="0.8"/>
<text x="104.6" y="237.1" font-size="6.5" fill="#231f20">MPP-A</text>
<text x="80.3" y="242.5" font-size="6.5" text-anchor="end" fill="#231f20">MPP-C</text>
<text x="66.1" y="252.7" font-size="6.5" text-anchor="end" fill="#231f20">Ery-2</text>
<text x="65.5" y="263.3" font-size="6.5" text-anchor="end" fill="#231f20">Mk-2</text>
<text x="119.4" y="257.3" font-size="6.5" fill="#231f20">Mk-1</text>
<text x="91.1" y="271.3" font-size="6.5" fill="#231f20">DC</text>
<text x="66.1" y="285.6" font-size="6.5" text-anchor="end" fill="#231f20">MEP</text>
<text x="82.9" y="282.9" font-size="6.5" fill="#231f20">MPP-B</text>
<text x="105.4" y="293.7" font-size="6.5" fill="#231f20">Mo-1</text>
<text x="52.6" y="297.7" font-size="6.5" text-anchor="end" fill="#231f20">Mo-2</text>
<text x="65.5" y="305.8" font-size="6.5" fill="#231f20">Ery-1</text>
<text x="48.9" y="309" font-size="6.5" text-anchor="end" fill="#231f20">Gr-2</text>
<text x="83.0" y="315.2" font-size="6.5" fill="#231f20">Gr-1</text>
<text x="110.5" y="315.2" font-size="6.5" fill="#231f20">PreB-1</text>
<text x="50.2" y="324.1" font-size="6.5" text-anchor="end" fill="#231f20">Gr-3</text>
<text x="52.9" y="321.9" font-size="6.5" fill="#231f20">GMP-1</text>
<text x="93.8" y="330" font-size="6.5" fill="#231f20">GMP-2</text>
<text x="28.6" y="335.4" font-size="6.5" text-anchor="end" fill="#231f20">MPP-MkE</text>
<text x="39.4" y="335.4" font-size="6.5" fill="#231f20">Ery-3</text>
<text x="132.9" y="286.9" font-size="6.5" fill="#231f20">PreB-2</text>
<text x="173.6" y="285.6" font-size="6.5" fill="#231f20">HSC</text>
<text x="57.4" y="338.9" font-size="6.5" fill="#231f20">Ccl5<tspan font-size="4.5" dy="-2">+</tspan><tspan dy="2"> B cell</tspan></text>
<line x1="57.5" y1="303.7" x2="63.5" y2="303.2" stroke="#111" stroke-width="0.6"/>
<line x1="28.3" y1="334.4" x2="32.3" y2="334.4" stroke="#111" stroke-width="0.6"/>
<line x1="44.5" y1="310.3" x2="43" y2="312.5" stroke="#111" stroke-width="0.5"/>
<line x1="43.2" y1="318" x2="44.5" y2="314.5" stroke="#111" stroke-width="0.5"/>
<line x1="52.5" y1="316" x2="54.5" y2="314" stroke="#111" stroke-width="0.5"/>
<text x="218" y="226.4" font-size="7.5" text-anchor="middle" fill="#231f20">–Log<tspan font-size="5" dy="2">10</tspan></text>
<text x="217.5" y="234.3" font-size="7.5" text-anchor="middle" fill="#231f20">(<tspan font-style="italic">P</tspan> value)</text>
<circle cx="209.8" cy="248.6" r="9.5" fill="#000"/>
<circle cx="210.2" cy="265.9" r="3.1" fill="#000"/>
<circle cx="210.2" cy="277.2" r="1" fill="#000"/>
<text x="222.6" y="251.4" font-size="7.5" fill="#231f20">0.96</text>
<text x="222.6" y="268" font-size="7.5" fill="#231f20">0.11</text>
<text x="222.6" y="279.7" font-size="7.5" fill="#231f20">0.01</text>
<text x="205.8" y="296.6" font-size="7.6" fill="#231f20">Enrichment</text>
<defs><linearGradient id="enr" x1="0" y1="0" x2="0" y2="1"><stop offset="0" stop-color="#f2617c"/><stop offset="0.5" stop-color="#8a3040"/><stop offset="1" stop-color="#000"/></linearGradient></defs>
<rect x="205.8" y="302.4" width="13.4" height="66.6" fill="url(#enr)" stroke="#111" stroke-width="0.9"/>
<text x="223" y="308.20000000000005" font-size="7.5" fill="#231f20">2.14</text>
<text x="223" y="323.40000000000003" font-size="7.5" fill="#231f20">1.64</text>
<text x="223" y="339.20000000000005" font-size="7.5" fill="#231f20">1.14</text>
<text x="223" y="354.6" font-size="7.5" fill="#231f20">0.64</text>
<text x="223" y="369.6" font-size="7.5" fill="#231f20">0.14</text>
<rect x="48.8" y="456.30" width="15.4" height="10.22" fill="#e9515d" stroke="#111" stroke-width="1"/>
<rect x="68.8" y="456.30" width="15.4" height="10.22" fill="#ffffff" stroke="#111" stroke-width="1"/>
<rect x="88.9" y="456.30" width="15.4" height="10.22" fill="#ffffff" stroke="#111" stroke-width="1"/>
<text x="43" y="464.01000000000005" font-size="7.7" text-anchor="end" font-style="italic" fill="#231f20">Tnf</text>
<line x1="45" y1="461.41" x2="48.4" y2="461.41" stroke="#111" stroke-width="0.9"/>
<text x="56.8" y="463.91" font-size="7" text-anchor="middle" font-weight="bold" font-style="italic" fill="#3a1010">#</text>
<rect x="48.8" y="466.52" width="15.4" height="10.22" fill="#f29097" stroke="#111" stroke-width="1"/>
<rect x="68.8" y="466.52" width="15.4" height="10.22" fill="#7f9fc8" stroke="#111" stroke-width="1"/>
<rect x="88.9" y="466.52" width="15.4" height="10.22" fill="#ffffff" stroke="#111" stroke-width="1"/>
<text x="43" y="474.2300000000001" font-size="7.7" text-anchor="end" font-style="italic" fill="#231f20">Tnfrsf1a</text>
<line x1="45" y1="471.63000000000005" x2="48.4" y2="471.63000000000005" stroke="#111" stroke-width="0.9"/>
<text x="56.8" y="474.13000000000005" font-size="7" text-anchor="middle" font-weight="bold" font-style="italic" fill="#3a1010">#</text>
<rect x="48.8" y="476.74" width="15.4" height="10.22" fill="#ffffff" stroke="#111" stroke-width="1"/>
<rect x="68.8" y="476.74" width="15.4" height="10.22" fill="#ffffff" stroke="#111" stroke-width="1"/>
<rect x="88.9" y="476.74" width="15.4" height="10.22" fill="#7f9fc8" stroke="#111" stroke-width="1"/>
<text x="43" y="484.45000000000005" font-size="7.7" text-anchor="end" font-style="italic" fill="#231f20">Tnfrsf1b</text>
<line x1="45" y1="481.85" x2="48.4" y2="481.85" stroke="#111" stroke-width="0.9"/>
<text x="56.8" y="484.35" font-size="7" text-anchor="middle" font-weight="bold" font-style="italic" fill="#3a1010">#</text>
<rect x="48.8" y="497.18" width="15.4" height="10.22" fill="#e9515d" stroke="#111" stroke-width="1"/>
<rect x="68.8" y="497.18" width="15.4" height="10.22" fill="#ffffff" stroke="#111" stroke-width="1"/>
<rect x="88.9" y="497.18" width="15.4" height="10.22" fill="#ee747c" stroke="#111" stroke-width="1"/>
<text x="43" y="504.89000000000004" font-size="7.7" text-anchor="end" font-style="italic" fill="#231f20">Birc2</text>
<line x1="45" y1="502.29" x2="48.4" y2="502.29" stroke="#111" stroke-width="0.9"/>
<rect x="48.8" y="507.40" width="15.4" height="10.22" fill="#e9515d" stroke="#111" stroke-width="1"/>
<rect x="68.8" y="507.40" width="15.4" height="10.22" fill="#ffffff" stroke="#111" stroke-width="1"/>
<rect x="88.9" y="507.40" width="15.4" height="10.22" fill="#ffffff" stroke="#111" stroke-width="1"/>
<text x="43" y="515.11" font-size="7.7" text-anchor="end" font-style="italic" fill="#231f20">Birc3</text>
<line x1="45" y1="512.51" x2="48.4" y2="512.51" stroke="#111" stroke-width="0.9"/>
<rect x="48.8" y="527.84" width="15.4" height="10.22" fill="#ee747c" stroke="#111" stroke-width="1"/>
<rect x="68.8" y="527.84" width="15.4" height="10.22" fill="#ffffff" stroke="#111" stroke-width="1"/>
<rect x="88.9" y="527.84" width="15.4" height="10.22" fill="#ffffff" stroke="#111" stroke-width="1"/>
<text x="43" y="535.5500000000001" font-size="7.7" text-anchor="end" font-style="italic" fill="#231f20">Ripk1</text>
<line x1="45" y1="532.95" x2="48.4" y2="532.95" stroke="#111" stroke-width="0.9"/>
<rect x="48.8" y="538.06" width="15.4" height="10.22" fill="#ffffff" stroke="#111" stroke-width="1"/>
<rect x="68.8" y="538.06" width="15.4" height="10.22" fill="#7f9fc8" stroke="#111" stroke-width="1"/>
<rect x="88.9" y="538.06" width="15.4" height="10.22" fill="#ffffff" stroke="#111" stroke-width="1"/>
<text x="43" y="545.7700000000001" font-size="7.7" text-anchor="end" font-style="italic" fill="#231f20">Ripk3</text>
<line x1="45" y1="543.1700000000001" x2="48.4" y2="543.1700000000001" stroke="#111" stroke-width="0.9"/>
<rect x="48.8" y="558.50" width="15.4" height="10.22" fill="#7f9fc8" stroke="#111" stroke-width="1"/>
<rect x="68.8" y="558.50" width="15.4" height="10.22" fill="#ee747c" stroke="#111" stroke-width="1"/>
<rect x="88.9" y="558.50" width="15.4" height="10.22" fill="#ffffff" stroke="#111" stroke-width="1"/>
<text x="43" y="566.21" font-size="7.7" text-anchor="end" font-style="italic" fill="#231f20">Bad</text>
<line x1="45" y1="563.61" x2="48.4" y2="563.61" stroke="#111" stroke-width="0.9"/>
<rect x="48.8" y="568.72" width="15.4" height="10.22" fill="#7f9fc8" stroke="#111" stroke-width="1"/>
<rect x="68.8" y="568.72" width="15.4" height="10.22" fill="#ee747c" stroke="#111" stroke-width="1"/>
<rect x="88.9" y="568.72" width="15.4" height="10.22" fill="#ffffff" stroke="#111" stroke-width="1"/>
<text x="43" y="576.4300000000001" font-size="7.7" text-anchor="end" font-style="italic" fill="#231f20">Casp3</text>
<line x1="45" y1="573.83" x2="48.4" y2="573.83" stroke="#111" stroke-width="0.9"/>
<rect x="48.8" y="589.16" width="15.4" height="10.22" fill="#e9515d" stroke="#111" stroke-width="1"/>
<rect x="68.8" y="589.16" width="15.4" height="10.22" fill="#ffffff" stroke="#111" stroke-width="1"/>
<rect x="88.9" y="589.16" width="15.4" height="10.22" fill="#7f9fc8" stroke="#111" stroke-width="1"/>
<text x="43" y="596.8700000000001" font-size="7.7" text-anchor="end" font-style="italic" fill="#231f20">Tab2</text>
<line x1="45" y1="594.2700000000001" x2="48.4" y2="594.2700000000001" stroke="#111" stroke-width="0.9"/>
<text x="56.8" y="596.7700000000001" font-size="7" text-anchor="middle" font-weight="bold" font-style="italic" fill="#3a1010">#</text>
<rect x="48.8" y="599.38" width="15.4" height="10.22" fill="#e9515d" stroke="#111" stroke-width="1"/>
<rect x="68.8" y="599.38" width="15.4" height="10.22" fill="#7f9fc8" stroke="#111" stroke-width="1"/>
<rect x="88.9" y="599.38" width="15.4" height="10.22" fill="#ffffff" stroke="#111" stroke-width="1"/>
<text x="43" y="607.09" font-size="7.7" text-anchor="end" font-style="italic" fill="#231f20">Map2k7</text>
<line x1="45" y1="604.49" x2="48.4" y2="604.49" stroke="#111" stroke-width="0.9"/>
<rect x="48.8" y="609.60" width="15.4" height="10.22" fill="#e9515d" stroke="#111" stroke-width="1"/>
<rect x="68.8" y="609.60" width="15.4" height="10.22" fill="#7f9fc8" stroke="#111" stroke-width="1"/>
<rect x="88.9" y="609.60" width="15.4" height="10.22" fill="#ffffff" stroke="#111" stroke-width="1"/>
<text x="43" y="617.3100000000001" font-size="7.7" text-anchor="end" font-style="italic" fill="#231f20">Map2k1</text>
<line x1="45" y1="614.71" x2="48.4" y2="614.71" stroke="#111" stroke-width="0.9"/>
<rect x="48.8" y="619.82" width="15.4" height="10.22" fill="#e9515d" stroke="#111" stroke-width="1"/>
<rect x="68.8" y="619.82" width="15.4" height="10.22" fill="#ffffff" stroke="#111" stroke-width="1"/>
<rect x="88.9" y="619.82" width="15.4" height="10.22" fill="#7f9fc8" stroke="#111" stroke-width="1"/>
<text x="43" y="627.5300000000001" font-size="7.7" text-anchor="end" font-style="italic" fill="#231f20">Cflar</text>
<line x1="45" y1="624.9300000000001" x2="48.4" y2="624.9300000000001" stroke="#111" stroke-width="0.9"/>
<rect x="48.8" y="630.04" width="15.4" height="10.22" fill="#ee747c" stroke="#111" stroke-width="1"/>
<rect x="68.8" y="630.04" width="15.4" height="10.22" fill="#ffffff" stroke="#111" stroke-width="1"/>
<rect x="88.9" y="630.04" width="15.4" height="10.22" fill="#7f9fc8" stroke="#111" stroke-width="1"/>
<text x="43" y="637.75" font-size="7.7" text-anchor="end" font-style="italic" fill="#231f20">Mapk14</text>
<line x1="45" y1="635.15" x2="48.4" y2="635.15" stroke="#111" stroke-width="0.9"/>
<rect x="48.8" y="650.48" width="15.4" height="10.22" fill="#ee747c" stroke="#111" stroke-width="1"/>
<rect x="68.8" y="650.48" width="15.4" height="10.22" fill="#7f9fc8" stroke="#111" stroke-width="1"/>
<rect x="88.9" y="650.48" width="15.4" height="10.22" fill="#7f9fc8" stroke="#111" stroke-width="1"/>
<text x="43" y="658.19" font-size="7.7" text-anchor="end" font-style="italic" fill="#231f20">Atf2</text>
<line x1="45" y1="655.59" x2="48.4" y2="655.59" stroke="#111" stroke-width="0.9"/>
<text x="56.8" y="658.09" font-size="7" text-anchor="middle" font-weight="bold" font-style="italic" fill="#3a1010">#</text>
<rect x="48.8" y="660.70" width="15.4" height="10.22" fill="#ee747c" stroke="#111" stroke-width="1"/>
<rect x="68.8" y="660.70" width="15.4" height="10.22" fill="#ffffff" stroke="#111" stroke-width="1"/>
<rect x="88.9" y="660.70" width="15.4" height="10.22" fill="#7f9fc8" stroke="#111" stroke-width="1"/>
<text x="43" y="668.4100000000001" font-size="7.7" text-anchor="end" font-style="italic" fill="#231f20">Creb1</text>
<line x1="45" y1="665.8100000000001" x2="48.4" y2="665.8100000000001" stroke="#111" stroke-width="0.9"/>
<text x="56.8" y="668.3100000000001" font-size="7" text-anchor="middle" font-weight="bold" font-style="italic" fill="#3a1010">#</text>
<rect x="48.8" y="670.92" width="15.4" height="10.22" fill="#ee747c" stroke="#111" stroke-width="1"/>
<rect x="68.8" y="670.92" width="15.4" height="10.22" fill="#7f9fc8" stroke="#111" stroke-width="1"/>
<rect x="88.9" y="670.92" width="15.4" height="10.22" fill="#ffffff" stroke="#111" stroke-width="1"/>
<text x="43" y="678.6300000000001" font-size="7.7" text-anchor="end" font-style="italic" fill="#231f20">Ikbkb</text>
<line x1="45" y1="676.0300000000001" x2="48.4" y2="676.0300000000001" stroke="#111" stroke-width="0.9"/>
<rect x="48.8" y="681.14" width="15.4" height="10.22" fill="#ee747c" stroke="#111" stroke-width="1"/>
<rect x="68.8" y="681.14" width="15.4" height="10.22" fill="#7f9fc8" stroke="#111" stroke-width="1"/>
<rect x="88.9" y="681.14" width="15.4" height="10.22" fill="#7f9fc8" stroke="#111" stroke-width="1"/>
<text x="43" y="688.85" font-size="7.7" text-anchor="end" font-style="italic" fill="#231f20">Nfkb1</text>
<line x1="45" y1="686.25" x2="48.4" y2="686.25" stroke="#111" stroke-width="0.9"/>
<text x="56.8" y="688.75" font-size="7" text-anchor="middle" font-weight="bold" font-style="italic" fill="#3a1010">#</text>
<rect x="48.8" y="701.58" width="15.4" height="10.22" fill="#e9515d" stroke="#111" stroke-width="1"/>
<rect x="68.8" y="701.58" width="15.4" height="10.22" fill="#ffffff" stroke="#111" stroke-width="1"/>
<rect x="88.9" y="701.58" width="15.4" height="10.22" fill="#ffffff" stroke="#111" stroke-width="1"/>
<text x="43" y="709.2900000000001" font-size="7.7" text-anchor="end" font-style="italic" fill="#231f20">Traf1</text>
<line x1="45" y1="706.69" x2="48.4" y2="706.69" stroke="#111" stroke-width="0.9"/>
<rect x="48.8" y="711.80" width="15.4" height="10.22" fill="#e33a49" stroke="#111" stroke-width="1"/>
<rect x="68.8" y="711.80" width="15.4" height="10.22" fill="#7f9fc8" stroke="#111" stroke-width="1"/>
<rect x="88.9" y="711.80" width="15.4" height="10.22" fill="#ee747c" stroke="#111" stroke-width="1"/>
<text x="43" y="719.5100000000001" font-size="7.7" text-anchor="end" font-style="italic" fill="#231f20">Pik3r1</text>
<line x1="45" y1="716.9100000000001" x2="48.4" y2="716.9100000000001" stroke="#111" stroke-width="0.9"/>
<rect x="48.8" y="732.24" width="15.4" height="10.22" fill="#e33a49" stroke="#111" stroke-width="1"/>
<rect x="68.8" y="732.24" width="15.4" height="10.22" fill="#ffffff" stroke="#111" stroke-width="1"/>
<rect x="88.9" y="732.24" width="15.4" height="10.22" fill="#7f9fc8" stroke="#111" stroke-width="1"/>
<text x="43" y="739.95" font-size="7.7" text-anchor="end" font-style="italic" fill="#231f20">Jun</text>
<line x1="45" y1="737.35" x2="48.4" y2="737.35" stroke="#111" stroke-width="0.9"/>
<text x="56.8" y="739.85" font-size="7" text-anchor="middle" font-weight="bold" font-style="italic" fill="#3a1010">#</text>
<rect x="48.8" y="742.46" width="15.4" height="10.22" fill="#24569b" stroke="#111" stroke-width="1"/>
<rect x="68.8" y="742.46" width="15.4" height="10.22" fill="#e33a49" stroke="#111" stroke-width="1"/>
<rect x="88.9" y="742.46" width="15.4" height="10.22" fill="#ffffff" stroke="#111" stroke-width="1"/>
<text x="43" y="750.1700000000001" font-size="7.7" text-anchor="end" font-style="italic" fill="#231f20">Cebpb</text>
<line x1="45" y1="747.57" x2="48.4" y2="747.57" stroke="#111" stroke-width="0.9"/>
<rect x="69.1" y="466.82" width="14.8" height="9.620000000000001" fill="none" stroke="#111" stroke-width="1.9"/>
<rect x="89.2" y="477.04" width="14.8" height="9.620000000000001" fill="none" stroke="#111" stroke-width="1.9"/>
<line x1="56.5" y1="453.6" x2="56.5" y2="456.3" stroke="#111" stroke-width="0.8"/>
<text transform="translate(58.1,450.2) rotate(-45)" font-size="7.5" fill="#231f20">R878H/+ HSC</text>
<line x1="76.5" y1="453.6" x2="76.5" y2="456.3" stroke="#111" stroke-width="0.8"/>
<text transform="translate(78.1,450.2) rotate(-45)" font-size="7.5" fill="#231f20">R878H/+;R1KO HSC</text>
<line x1="96.60000000000001" y1="453.6" x2="96.60000000000001" y2="456.3" stroke="#111" stroke-width="0.8"/>
<text transform="translate(98.2,450.2) rotate(-45)" font-size="7.5" fill="#231f20">R878H/+;R2KO HSC</text>
<text x="110.2" y="471.8" font-size="7.5" fill="#231f20">Ligand &amp;</text>
<text x="110.2" y="479.8" font-size="7.5" fill="#231f20">receptors</text>
<text x="110.2" y="509.6" font-size="7.5" fill="#231f20">Survival</text>
<text x="110.2" y="540" font-size="7.5" fill="#231f20">Necroptosis</text>
<text x="110.2" y="570.6" font-size="7.5" fill="#231f20">Apoptosis</text>
<text x="110.2" y="610.8" font-size="7.5" fill="#231f20">MAPK</text>
<text x="110.2" y="619.6" font-size="7.5" fill="#231f20">signaling</text>
<text x="110.2" y="666" font-size="7.5" fill="#231f20">NF-κB</text>
<text x="110.2" y="674.8" font-size="7.5" fill="#231f20">signaling</text>
<text x="110.2" y="708.3" font-size="7.5" fill="#231f20">PI3K</text>
<text x="110.2" y="717.1" font-size="7.5" fill="#231f20">signaling</text>
<text x="110.2" y="740.2" font-size="7.5" fill="#231f20">Transcription</text>
<text x="110.2" y="748.8" font-size="7.5" fill="#231f20">factors</text>
<defs><linearGradient id="fc" x1="0" y1="0" x2="1" y2="0"><stop offset="0" stop-color="#1f4e96"/><stop offset="0.18" stop-color="#3e6bb0"/><stop offset="0.5" stop-color="#ffffff"/><stop offset="0.82" stop-color="#ec5a65"/><stop offset="1" stop-color="#e22b3c"/></linearGradient></defs>
<rect x="43.2" y="759.7" width="62.4" height="11.2" fill="url(#fc)" stroke="#333" stroke-width="0.4"/>
<line x1="49.2" y1="759.7" x2="49.2" y2="761.5" stroke="#111" stroke-width="0.6"/>
<line x1="49.2" y1="769.1" x2="49.2" y2="770.9" stroke="#111" stroke-width="0.6"/>
<line x1="61.6" y1="759.7" x2="61.6" y2="761.5" stroke="#111" stroke-width="0.6"/>
<line x1="61.6" y1="769.1" x2="61.6" y2="770.9" stroke="#111" stroke-width="0.6"/>
<line x1="74.3" y1="759.7" x2="74.3" y2="761.5" stroke="#111" stroke-width="0.6"/>
<line x1="74.3" y1="769.1" x2="74.3" y2="770.9" stroke="#111" stroke-width="0.6"/>
<line x1="86.6" y1="759.7" x2="86.6" y2="761.5" stroke="#111" stroke-width="0.6"/>
<line x1="86.6" y1="769.1" x2="86.6" y2="770.9" stroke="#111" stroke-width="0.6"/>
<line x1="98.9" y1="759.7" x2="98.9" y2="761.5" stroke="#111" stroke-width="0.6"/>
<line x1="98.9" y1="769.1" x2="98.9" y2="770.9" stroke="#111" stroke-width="0.6"/>
<text x="49.2" y="780" font-size="7.5" text-anchor="middle" fill="#231f20">–2</text>
<text x="61.5" y="780" font-size="7.5" text-anchor="middle" fill="#231f20">–1</text>
<text x="74.2" y="780" font-size="7.5" text-anchor="middle" fill="#231f20">0</text>
<text x="86.4" y="780" font-size="7.5" text-anchor="middle" fill="#231f20">1</text>
<text x="98.8" y="780" font-size="7.5" text-anchor="middle" fill="#231f20">2</text>
<text x="74.3" y="790.6" font-size="7.5" text-anchor="middle" fill="#231f20">Fold change</text>
<rect x="19.4" y="796" width="113.2" height="29.6" fill="#fff" stroke="#333" stroke-width="0.9"/>
<text x="75" y="803.6" font-size="7.5" text-anchor="middle" fill="#231f20"># Hypomethylated in R878H/+</text>
<text x="75" y="813.2" font-size="7.5" text-anchor="middle" fill="#231f20">vs. control HSCs (data from</text>
<text x="75" y="822.7" font-size="7.5" text-anchor="middle" fill="#231f20">Jeong et al.; ref. 21)</text>
<text x="189.8" y="434.2" font-size="7.6" font-weight="bold" fill="#3c4fa6">UP in R878H/+;R1KO HSC</text>
<text x="189.8" y="446.0" font-size="7.7" fill="#3c4fa6">HALLMARK_OX_PHOS</text>
<text x="189.8" y="455.1" font-size="7.7" fill="#3c4fa6">HALLMARK_MYC_TARGETS_V1</text>
<text x="189.8" y="464.2" font-size="7.7" fill="#3c4fa6">HALLMARK_DNA_REPAIR</text>
<text x="189.8" y="473.3" font-size="7.7" fill="#3c4fa6">HALLMARK_MYC_TARGETS_V2</text>
<text x="189.8" y="482.4" font-size="7.7" fill="#3c4fa6">BENPORATH_MYC_MAX_TARGETS</text>
<text x="382.7" y="435.3" font-size="7.6" font-weight="bold" fill="#3aa3bf">UP in R878H/+;R2KO HSC</text>
<text x="382.7" y="445.6" font-size="7.65" fill="#62c3d3">HALLMARK_OX_PHOS</text>
<text x="382.7" y="454.90000000000003" font-size="7.65" fill="#62c3d3">GOBP_AEROBIC_RESPIR</text>
<text x="382.7" y="464.20000000000005" font-size="7.65" fill="#62c3d3">KEGG_OX_PHOS</text>
<text x="190" y="513.7" font-size="7.5" font-weight="bold" fill="#3c4fa6">DOWN in R878H/+;R1KO HSC</text>
<text x="190" y="524.8" font-size="7.6" fill="#3c4fa6">HALLMARK_E2F_TARGETS</text>
<text x="190" y="534.18" font-size="7.6" fill="#3c4fa6">PUJANA_CHEK2_NETWORK</text>
<text x="190" y="543.56" font-size="7.6" fill="#3c4fa6">PUJANA_BRCA1_NETWORK</text>
<text x="190" y="552.9399999999999" font-size="7.6" fill="#3c4fa6">PUJANA_ATM_NETWORK</text>
<text x="190" y="562.3199999999999" font-size="7.6" fill="#3c4fa6">GOBP_CELL_DIVISION</text>
<text x="401.3" y="514.5" font-size="7.6" font-weight="bold" fill="#3aa3bf">DOWN in R878H/+;R2KO HSC</text>
<text x="401.3" y="525.5" font-size="7.65" fill="#62c3d3">HALLMARK_P53_PATHWAY</text>
<text x="401.3" y="534.65" font-size="7.65" fill="#62c3d3">GOCC_CHROMATIN</text>
<text x="401.3" y="543.8" font-size="7.65" fill="#62c3d3">GOBP_CHROMATIN_ORG</text>
<text x="401.3" y="552.95" font-size="7.65" fill="#62c3d3">HAMAI_APOPTOSIS_UP</text>
<text x="401.3" y="562.1" font-size="7.65" fill="#62c3d3">GOMF_CHROMATIN_BINDING</text>
<text x="401.3" y="571.25" font-size="7.65" fill="#62c3d3">REACTOME_ADAPTIVE_IMMUNE</text>
<defs><clipPath id="v1"><circle cx="340" cy="453.3" r="24.9"/></clipPath><clipPath id="v2"><circle cx="347.1" cy="540.6" r="44"/></clipPath></defs>
<circle cx="355.8" cy="453.3" r="14.4" fill="#aadfea"/>
<circle cx="340" cy="453.3" r="24.9" fill="#3d55b8"/>
<circle cx="355.8" cy="453.3" r="14.4" fill="#3f8dc4" clip-path="url(#v1)"/>
<circle cx="340" cy="453.3" r="24.9" fill="none" stroke="#0c1838" stroke-width="1.35"/>
<circle cx="355.8" cy="453.3" r="14.4" fill="none" stroke="#0c1838" stroke-width="1.35"/>
<text x="328.2" y="456.2" font-size="7" text-anchor="middle" font-weight="bold" fill="#141d4a">176</text>
<text x="351.7" y="456.2" font-size="7" text-anchor="middle" font-weight="bold" fill="#141d4a">69</text>
<text x="372.2" y="470.8" font-size="7" text-anchor="middle" font-weight="bold" fill="#111">17</text>
<circle cx="326.5" cy="551.9" r="31.3" fill="#3d55b8"/>
<circle cx="347.1" cy="540.6" r="44" fill="#a3dce9"/>
<circle cx="326.5" cy="551.9" r="31.3" fill="#3f8dc4" clip-path="url(#v2)"/>
<circle cx="347.1" cy="540.6" r="44" fill="none" stroke="#0c1838" stroke-width="1.35"/>
<circle cx="326.5" cy="551.9" r="31.3" fill="none" stroke="#0c1838" stroke-width="1.35"/>
<text x="365.7" y="531.9" font-size="7" text-anchor="middle" font-weight="bold" fill="#111">937</text>
<text x="327.7" y="552.2" font-size="7" text-anchor="middle" font-weight="bold" fill="#141d4a">739</text>
<text x="291.6" y="569.9" font-size="7" text-anchor="middle" font-weight="bold" fill="#111">85</text>
<circle cx="275.8" cy="694.3" r="18.9" fill="#fbecc4" stroke="#6a5a38" stroke-width="0.6"/>
<circle cx="276.8" cy="695.8" r="13.8" fill="#f6cfa0"/>
<circle cx="333.6" cy="694.6" r="19" fill="#fbecc4" stroke="#6a5a38" stroke-width="0.6"/>
<circle cx="332.6" cy="696" r="13.8" fill="#f6cfa0"/>
<ellipse cx="304.4" cy="721.5" rx="41" ry="40" fill="#fbecc4" stroke="#3b2f1e" stroke-width="0.8"/>
<ellipse cx="305" cy="727.1" rx="31.6" ry="32.8" fill="#f6cc9c" stroke="#e0b080" stroke-width="0.5"/>
<text x="301.3" y="637.2" font-size="7.5" text-anchor="middle" fill="#231f20">TNF</text>
<ellipse cx="289.5" cy="643.8" rx="3.4" ry="5.6" fill="#f08a40" stroke="#d06a24" stroke-width="0.5"/><ellipse cx="294.5" cy="643.8" rx="3.4" ry="5.6" fill="#f08a40" stroke="#c8601e" stroke-width="0.5"/>
<ellipse cx="313.8" cy="643.8" rx="3.4" ry="5.6" fill="#f08a40" stroke="#d06a24" stroke-width="0.5"/><ellipse cx="318.8" cy="643.8" rx="3.4" ry="5.6" fill="#f08a40" stroke="#c8601e" stroke-width="0.5"/>
<ellipse cx="302.9" cy="653.8" rx="3.4" ry="5.6" fill="#f08a40" stroke="#d06a24" stroke-width="0.5"/><ellipse cx="307.9" cy="653.8" rx="3.4" ry="5.6" fill="#f08a40" stroke="#c8601e" stroke-width="0.5"/>
<text x="258.8" y="660.2" font-size="7.5" text-anchor="middle" fill="#231f20">TNFR1</text>
<text x="352.5" y="660.2" font-size="7.5" text-anchor="middle" fill="#231f20">TNFR2</text>
<g transform="translate(282.4,658.8) rotate(0) scale(1.0)">
<ellipse cx="-1.5" cy="4.6" rx="2.6" ry="3.9" fill="#f08a40" stroke="#d06a24" stroke-width="0.4"/><ellipse cx="1.5" cy="4.6" rx="2.6" ry="3.9" fill="#f08a40" stroke="#d06a24" stroke-width="0.4"/>
<path d="M-5.9,5 L-3.9,4.2 L-3.3,8.6 L-1.5,10.2 L1.5,10.2 L3.3,8.6 L3.9,4.2 L5.9,5 L5.5,10.5 L3.7,13.5 L3.7,20.5 L2.9,23 L2.8,38 L1.9,39.6 L0.9,38 L0.7,24.5 L-0.7,24.5 L-0.9,38 L-1.9,39.6 L-2.8,38 L-2.9,23 L-3.7,20.5 L-3.7,13.5 L-5.5,10.5 Z" fill="#1f9ab8" stroke="#147088" stroke-width="0.35" stroke-linejoin="round"/>
<rect x="-3.7" y="17.3" width="7.4" height="1.4" fill="#147088" opacity="0.7"/>
<path d="M-2,15.5 L0,13.5 L2,15.5 L0,17.5 Z" fill="#7fd8e8" opacity="0.7"/>
<path d="M-1.85,23 L-1.85,34 M1.85,23 L1.85,34" stroke="#7a4a2a" stroke-width="0.5" fill="none"/>
</g>
<g transform="translate(327.3,658.8) rotate(0) scale(1.0)">
<ellipse cx="-1.5" cy="4.6" rx="2.6" ry="3.9" fill="#f08a40" stroke="#d06a24" stroke-width="0.4"/><ellipse cx="1.5" cy="4.6" rx="2.6" ry="3.9" fill="#f08a40" stroke="#d06a24" stroke-width="0.4"/>
<path d="M-5.9,5 L-3.9,4.2 L-3.3,8.6 L-1.5,10.2 L1.5,10.2 L3.3,8.6 L3.9,4.2 L5.9,5 L5.5,10.5 L3.7,13.5 L3.7,20.5 L2.9,23 L2.8,38 L1.9,39.6 L0.9,38 L0.7,24.5 L-0.7,24.5 L-0.9,38 L-1.9,39.6 L-2.8,38 L-2.9,23 L-3.7,20.5 L-3.7,13.5 L-5.5,10.5 Z" fill="#2a62b4" stroke="#1a3f88" stroke-width="0.35" stroke-linejoin="round"/>
<rect x="-3.7" y="17.3" width="7.4" height="1.4" fill="#1a3f88" opacity="0.7"/>
<path d="M-2,15.5 L0,13.5 L2,15.5 L0,17.5 Z" fill="#7fd8e8" opacity="0.7"/>
<path d="M-1.85,23 L-1.85,34 M1.85,23 L1.85,34" stroke="#7a4a2a" stroke-width="0.5" fill="none"/>
</g>
<g transform="translate(256.3,666.3) rotate(-31) scale(0.6)">
<ellipse cx="-1.5" cy="4.6" rx="2.6" ry="3.9" fill="#f08a40" stroke="#d06a24" stroke-width="0.4"/><ellipse cx="1.5" cy="4.6" rx="2.6" ry="3.9" fill="#f08a40" stroke="#d06a24" stroke-width="0.4"/>
<path d="M-5.9,5 L-3.9,4.2 L-3.3,8.6 L-1.5,10.2 L1.5,10.2 L3.3,8.6 L3.9,4.2 L5.9,5 L5.5,10.5 L3.7,13.5 L3.7,20.5 L2.9,23 L2.8,38 L1.9,39.6 L0.9,38 L0.7,24.5 L-0.7,24.5 L-0.9,38 L-1.9,39.6 L-2.8,38 L-2.9,23 L-3.7,20.5 L-3.7,13.5 L-5.5,10.5 Z" fill="#3f9fb4" stroke="#2f7080" stroke-width="0.35" stroke-linejoin="round"/>
<rect x="-3.7" y="17.3" width="7.4" height="1.4" fill="#2f7080" opacity="0.7"/>
<path d="M-2,15.5 L0,13.5 L2,15.5 L0,17.5 Z" fill="#7fd8e8" opacity="0.7"/>
<path d="M-1.85,23 L-1.85,34 M1.85,23 L1.85,34" stroke="#7a4a2a" stroke-width="0.5" fill="none"/>
</g>
<g transform="translate(351.9,666.3) rotate(31) scale(0.6)">
<ellipse cx="-1.5" cy="4.6" rx="2.6" ry="3.9" fill="#f08a40" stroke="#d06a24" stroke-width="0.4"/><ellipse cx="1.5" cy="4.6" rx="2.6" ry="3.9" fill="#f08a40" stroke="#d06a24" stroke-width="0.4"/>
<path d="M-5.9,5 L-3.9,4.2 L-3.3,8.6 L-1.5,10.2 L1.5,10.2 L3.3,8.6 L3.9,4.2 L5.9,5 L5.5,10.5 L3.7,13.5 L3.7,20.5 L2.9,23 L2.8,38 L1.9,39.6 L0.9,38 L0.7,24.5 L-0.7,24.5 L-0.9,38 L-1.9,39.6 L-2.8,38 L-2.9,23 L-3.7,20.5 L-3.7,13.5 L-5.5,10.5 Z" fill="#5f88c8" stroke="#3a5a98" stroke-width="0.35" stroke-linejoin="round"/>
<rect x="-3.7" y="17.3" width="7.4" height="1.4" fill="#3a5a98" opacity="0.7"/>
<path d="M-2,15.5 L0,13.5 L2,15.5 L0,17.5 Z" fill="#7fd8e8" opacity="0.7"/>
<path d="M-1.85,23 L-1.85,34 M1.85,23 L1.85,34" stroke="#7a4a2a" stroke-width="0.5" fill="none"/>
</g>
<line x1="284.2" y1="699.5" x2="289.5" y2="712.5" stroke="#111" stroke-width="1.0"/>
<path d="M290.9,715.8 L287.4,712.3 L289.6,712.6 L290.9,710.8 Z" fill="#111"/>
<line x1="325.7" y1="699.5" x2="320.4" y2="712.5" stroke="#111" stroke-width="1.0"/>
<path d="M319.0,715.8 L319.0,710.8 L320.3,712.6 L322.5,712.3 Z" fill="#111"/>
<path d="M293,723.6 L293,718.8 L295.2,718.8" fill="none" stroke="#111" stroke-width="0.8"/><path d="M297.2,718.8 l-2.4,-1.5 l0,3 Z" fill="#111"/>
<path d="M317.6,723.6 L317.6,718.8 L319.8,718.8" fill="none" stroke="#111" stroke-width="0.8"/><path d="M321.8,718.8 l-2.4,-1.5 l0,3 Z" fill="#111"/>
<line x1="281.6" y1="728.6" x2="281.6" y2="724.2" stroke="#e04a3a" stroke-width="0.6"/>
<line x1="283.2" y1="727.9" x2="283.2" y2="724.9" stroke="#ffffff" stroke-width="0.6"/>
<line x1="288.2" y1="725.0" x2="288.2" y2="727.8" stroke="#2a9fb0" stroke-width="0.6"/>
<line x1="289.8" y1="724.3" x2="289.8" y2="728.5" stroke="#e04a3a" stroke-width="0.6"/>
<line x1="291.5" y1="723.8" x2="291.5" y2="729.0" stroke="#ffffff" stroke-width="0.6"/>
<line x1="293.1" y1="723.8" x2="293.1" y2="729.0" stroke="#2a9fb0" stroke-width="0.6"/>
<line x1="294.8" y1="724.1" x2="294.8" y2="728.7" stroke="#e04a3a" stroke-width="0.6"/>
<line x1="296.4" y1="724.8" x2="296.4" y2="728.0" stroke="#ffffff" stroke-width="0.6"/>
<line x1="301.4" y1="727.7" x2="301.4" y2="725.1" stroke="#2a9fb0" stroke-width="0.6"/>
<line x1="303.0" y1="728.5" x2="303.0" y2="724.3" stroke="#e04a3a" stroke-width="0.6"/>
<line x1="304.7" y1="728.9" x2="304.7" y2="723.9" stroke="#ffffff" stroke-width="0.6"/>
<line x1="306.3" y1="729.0" x2="306.3" y2="723.8" stroke="#2a9fb0" stroke-width="0.6"/>
<line x1="308.0" y1="728.7" x2="308.0" y2="724.1" stroke="#e04a3a" stroke-width="0.6"/>
<line x1="309.6" y1="728.0" x2="309.6" y2="724.8" stroke="#ffffff" stroke-width="0.6"/>
<line x1="314.6" y1="725.1" x2="314.6" y2="727.7" stroke="#2a9fb0" stroke-width="0.6"/>
<line x1="316.2" y1="724.4" x2="316.2" y2="728.4" stroke="#e04a3a" stroke-width="0.6"/>
<line x1="317.9" y1="723.9" x2="317.9" y2="728.9" stroke="#ffffff" stroke-width="0.6"/>
<line x1="319.5" y1="723.8" x2="319.5" y2="729.0" stroke="#2a9fb0" stroke-width="0.6"/>
<line x1="321.2" y1="724.1" x2="321.2" y2="728.7" stroke="#e04a3a" stroke-width="0.6"/>
<line x1="322.8" y1="724.7" x2="322.8" y2="728.1" stroke="#ffffff" stroke-width="0.6"/>
<line x1="327.8" y1="727.6" x2="327.8" y2="725.2" stroke="#2a9fb0" stroke-width="0.6"/>
<path d="M280.4,723.2 L281.1,723.4 L281.8,723.7 L282.5,724.0 L283.2,724.5 L283.9,724.9 L284.6,725.4 L285.3,726.0 L286.1,726.5 L286.8,727.1 L287.5,727.6 L288.2,728.1 L288.9,728.5 L289.6,728.9 L290.3,729.2 L291.0,729.5 L291.7,729.6 L292.4,729.7 L293.1,729.7 L293.8,729.5 L294.5,729.3 L295.2,729.1 L296.0,728.7 L296.7,728.3 L297.4,727.8 L298.1,727.3 L298.8,726.7 L299.5,726.2 L300.2,725.6 L300.9,725.1 L301.6,724.6 L302.3,724.2 L303.0,723.8 L303.7,723.5 L304.4,723.3 L305.1,723.1 L305.9,723.1 L306.6,723.1 L307.3,723.3 L308.0,723.5 L308.7,723.8 L309.4,724.2 L310.1,724.6 L310.8,725.1 L311.5,725.6 L312.2,726.2 L312.9,726.7 L313.6,727.3 L314.3,727.8 L315.0,728.3 L315.8,728.7 L316.5,729.1 L317.2,729.3 L317.9,729.6 L318.6,729.7 L319.3,729.7 L320.0,729.6 L320.7,729.5 L321.4,729.2 L322.1,728.9 L322.8,728.5 L323.5,728.1 L324.2,727.6 L324.9,727.1 L325.7,726.5 L326.4,726.0 L327.1,725.4 L327.8,724.9 L328.5,724.4 L329.2,724.0 L329.9,723.7 " fill="none" stroke="#d83a2c" stroke-width="1.25" stroke-linecap="round"/>
<path d="M280.4,729.6 L281.1,729.4 L281.8,729.1 L282.5,728.8 L283.2,728.3 L283.9,727.9 L284.6,727.4 L285.3,726.8 L286.1,726.3 L286.8,725.7 L287.5,725.2 L288.2,724.7 L288.9,724.3 L289.6,723.9 L290.3,723.6 L291.0,723.3 L291.7,723.2 L292.4,723.1 L293.1,723.1 L293.8,723.3 L294.5,723.5 L295.2,723.7 L296.0,724.1 L296.7,724.5 L297.4,725.0 L298.1,725.5 L298.8,726.1 L299.5,726.6 L300.2,727.2 L300.9,727.7 L301.6,728.2 L302.3,728.6 L303.0,729.0 L303.7,729.3 L304.4,729.5 L305.1,729.7 L305.9,729.7 L306.6,729.7 L307.3,729.5 L308.0,729.3 L308.7,729.0 L309.4,728.6 L310.1,728.2 L310.8,727.7 L311.5,727.2 L312.2,726.6 L312.9,726.1 L313.6,725.5 L314.3,725.0 L315.0,724.5 L315.8,724.1 L316.5,723.7 L317.2,723.5 L317.9,723.2 L318.6,723.1 L319.3,723.1 L320.0,723.2 L320.7,723.3 L321.4,723.6 L322.1,723.9 L322.8,724.3 L323.5,724.7 L324.2,725.2 L324.9,725.7 L325.7,726.3 L326.4,726.8 L327.1,727.4 L327.8,727.9 L328.5,728.4 L329.2,728.8 L329.9,729.1 " fill="none" stroke="#1f8fa8" stroke-width="1.25" stroke-linecap="round"/>
<line x1="339.5" y1="726.9" x2="356.0" y2="739.6" stroke="#111" stroke-width="2.9"/>
<path d="M362.0,744.2 L352.4,742.6 L356.1,739.6 L358.0,735.3 Z" fill="#111"/>
<path d="M337.5,723.2 L357,707.6" fill="none" stroke="#111" stroke-width="0.7" stroke-dasharray="1.1,1.1"/>
<path d="M360,705.3 l-4.2,1.2 l2.2,2.8 Z" fill="#111"/>
<path d="M293.6,730.5 C293.4,739 287,746.5 278.5,750.3" fill="none" stroke="#5a4020" stroke-width="0.5"/>
<path d="M278.5,750.3 C274,752.8 269,754.6 265.3,755.4" fill="none" stroke="#111" stroke-width="0.7" stroke-dasharray="1.1,1.1"/>
<circle cx="263.8" cy="755.8" r="1.1" fill="#111"/>
<path d="M251.7,733.5 A9.9,9.9 0 1 1 245.2,717.9" fill="none" stroke="#111" stroke-width="2.3"/>
<path d="M253.6,718.3 L247,711.4 L244.2,719.2 Z" fill="#111"/>
<text x="245" y="751.3" font-size="7.5" text-anchor="middle" fill="#231f20">Selective</text>
<text x="245" y="760.1" font-size="7.5" text-anchor="middle" fill="#231f20">fitness</text>
<text x="245" y="768.9" font-size="7.5" text-anchor="middle" fill="#231f20">advantage</text>
<text x="308.2" y="773" font-size="7.5" text-anchor="middle" fill="#231f20"><tspan font-style="italic">Dnmt3a</tspan>-mutant</text>
<text x="308.2" y="782.3" font-size="7.5" text-anchor="middle" fill="#231f20">HSC pool</text>
<circle cx="368" cy="700.3" r="10" fill="#f5bdb6" stroke="#eba49e" stroke-width="0.5"/>
<circle cx="371.5" cy="697" r="3.4" fill="#f0a8a0"/><circle cx="366" cy="704" r="2.4" fill="#f0a8a0"/><circle cx="364.5" cy="697" r="1.6" fill="#f0a8a0"/>
<circle cx="379.3" cy="711.2" r="10.6" fill="#f4a2c8" stroke="#e27ab0" stroke-width="0.5"/>
<circle cx="379" cy="712" r="7.6" fill="#e25aa6"/><circle cx="379.8" cy="711.5" r="3.2" fill="#f07cb8"/>
<circle cx="395.3" cy="702.8" r="14.3" fill="#a9a5e2" stroke="#9490d4" stroke-width="1.2" stroke-dasharray="3.2,1.1"/>
<circle cx="395.3" cy="702.8" r="13.6" fill="#a9a5e2"/>
<circle cx="396.2" cy="703.1" r="6.9" fill="#8e8ad2"/>
<circle cx="392" cy="744.4" r="12.9" fill="#a0d7ae" stroke="#7cbc90" stroke-width="0.6"/>
<circle cx="393.8" cy="744.8" r="8.6" fill="#56ae76"/>
<circle cx="376" cy="751" r="13.8" fill="#8ed0e0" stroke="#6ab0c8" stroke-width="0.6"/>
<circle cx="374.8" cy="749.6" r="8.9" fill="#5a9fc2"/>
<text x="426.7" y="702.1" font-size="7.5" text-anchor="middle" fill="#231f20">Myeloid</text>
<text x="426.7" y="711.3" font-size="7.5" text-anchor="middle" fill="#231f20">cells</text>
<text x="424.7" y="747.6" font-size="7.5" text-anchor="middle" fill="#231f20">Lymphoid</text>
<text x="424.7" y="756.8" font-size="7.5" text-anchor="middle" fill="#231f20">cells</text>
<text x="4.8" y="7.9" font-size="10" font-weight="bold" fill="#111">A</text>
<text x="4.6" y="58.6" font-size="10" font-weight="bold" fill="#111">B</text>
<text x="241.1" y="7.8" font-size="10" font-weight="bold" fill="#111">C</text>
<text x="4.4" y="227.6" font-size="10" font-weight="bold" fill="#111">D</text>
<text x="4.4" y="418.6" font-size="10" font-weight="bold" fill="#111">E</text>
<text x="176.4" y="418.6" font-size="10" font-weight="bold" fill="#111">F</text>
<text x="176.3" y="642.2" font-size="10" font-weight="bold" fill="#111">G</text>
</svg></body></html>
